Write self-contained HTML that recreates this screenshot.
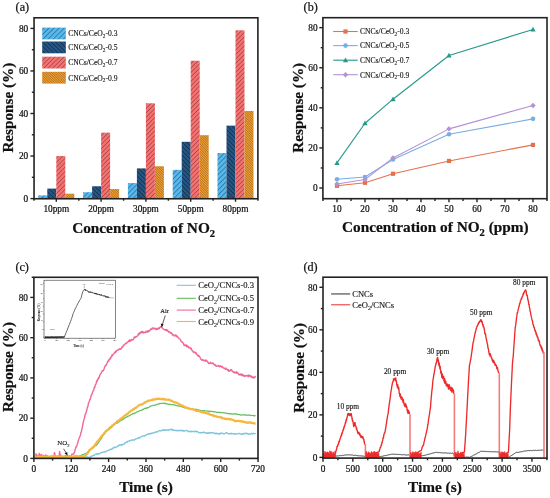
<!DOCTYPE html><html><head><meta charset="utf-8"><style>html,body{margin:0;padding:0;background:#fff;}svg{display:block;will-change:transform;}text{font-family:"Liberation Serif",serif;fill:#111;stroke:#111;stroke-width:0.22px;}</style></head><body>
<svg width="550" height="498" viewBox="0 0 550 498">
<defs>
<pattern id="hLB" patternUnits="userSpaceOnUse" width="3.6" height="3.6" patternTransform="rotate(45)"><rect width="3.6" height="3.6" fill="#56b9ee"/><line x1="0" y1="0" x2="0" y2="3.6" stroke="#1a3d5e" stroke-width="0.95"/></pattern>
<pattern id="hDB" patternUnits="userSpaceOnUse" width="3.1" height="3.1" patternTransform="rotate(-45)"><rect width="3.1" height="3.1" fill="#255583"/><line x1="0" y1="0" x2="0" y2="3.1" stroke="#08172a" stroke-width="0.95"/></pattern>
<pattern id="hR" patternUnits="userSpaceOnUse" width="3.15" height="3.15" patternTransform="rotate(45)"><rect width="3.15" height="3.15" fill="#f57272"/><line x1="0" y1="0" x2="0" y2="3.15" stroke="#7a2828" stroke-width="0.95"/></pattern>
<pattern id="hO" patternUnits="userSpaceOnUse" width="1.7" height="1.7" patternTransform="rotate(-45)"><rect width="1.7" height="1.7" fill="#f8a434"/><line x1="0" y1="0" x2="0" y2="1.7" stroke="#5e3c0e" stroke-width="0.8"/></pattern>
</defs>
<rect width="550" height="498" fill="#fff"/>
<rect x="38.3" y="195.41" width="9.0" height="3.34" fill="url(#hLB)"/>
<rect x="47.3" y="188.6" width="9.0" height="10.15" fill="url(#hDB)"/>
<rect x="56.3" y="156.05" width="9.0" height="42.7" fill="url(#hR)"/>
<rect x="65.3" y="193.71" width="9.0" height="5.04" fill="url(#hO)"/>
<rect x="83.1" y="192.22" width="9.0" height="6.53" fill="url(#hLB)"/>
<rect x="92.1" y="186.26" width="9.0" height="12.49" fill="url(#hDB)"/>
<rect x="101.1" y="132.65" width="9.0" height="66.1" fill="url(#hR)"/>
<rect x="110.1" y="189.03" width="9.0" height="9.72" fill="url(#hO)"/>
<rect x="127.9" y="183.07" width="9.0" height="15.68" fill="url(#hLB)"/>
<rect x="136.9" y="168.39" width="9.0" height="30.36" fill="url(#hDB)"/>
<rect x="145.9" y="103.29" width="9.0" height="95.46" fill="url(#hR)"/>
<rect x="154.9" y="166.26" width="9.0" height="32.49" fill="url(#hO)"/>
<rect x="172.7" y="169.88" width="9.0" height="28.87" fill="url(#hLB)"/>
<rect x="181.7" y="141.8" width="9.0" height="56.95" fill="url(#hDB)"/>
<rect x="190.7" y="60.74" width="9.0" height="138.01" fill="url(#hR)"/>
<rect x="199.7" y="135.2" width="9.0" height="63.55" fill="url(#hO)"/>
<rect x="217.5" y="153.07" width="9.0" height="45.68" fill="url(#hLB)"/>
<rect x="226.5" y="125.63" width="9.0" height="73.12" fill="url(#hDB)"/>
<rect x="235.5" y="30.31" width="9.0" height="168.44" fill="url(#hR)"/>
<rect x="244.5" y="110.95" width="9.0" height="87.8" fill="url(#hO)"/>
<rect x="34.05" y="17.8" width="223.85" height="180.95" fill="none" stroke="#222" stroke-width="1.6"/>
<line x1="30.45" y1="198.6" x2="34.05" y2="198.6" stroke="#222" stroke-width="1.4"/>
<text x="28.2" y="201.8" font-size="9.3" text-anchor="end" >0</text>
<line x1="31.85" y1="177.32" x2="34.05" y2="177.32" stroke="#222" stroke-width="1.4"/>
<line x1="30.45" y1="156.05" x2="34.05" y2="156.05" stroke="#222" stroke-width="1.4"/>
<text x="28.2" y="159.25" font-size="9.3" text-anchor="end" >20</text>
<line x1="31.85" y1="134.78" x2="34.05" y2="134.78" stroke="#222" stroke-width="1.4"/>
<line x1="30.45" y1="113.5" x2="34.05" y2="113.5" stroke="#222" stroke-width="1.4"/>
<text x="28.2" y="116.7" font-size="9.3" text-anchor="end" >40</text>
<line x1="31.85" y1="92.22" x2="34.05" y2="92.22" stroke="#222" stroke-width="1.4"/>
<line x1="30.45" y1="70.95" x2="34.05" y2="70.95" stroke="#222" stroke-width="1.4"/>
<text x="28.2" y="74.15" font-size="9.3" text-anchor="end" >60</text>
<line x1="31.85" y1="49.68" x2="34.05" y2="49.68" stroke="#222" stroke-width="1.4"/>
<line x1="30.45" y1="28.4" x2="34.05" y2="28.4" stroke="#222" stroke-width="1.4"/>
<text x="28.2" y="31.6" font-size="9.3" text-anchor="end" >80</text>
<line x1="34.05" y1="198.75" x2="34.05" y2="200.75" stroke="#222" stroke-width="1.4"/>
<line x1="78.82" y1="198.75" x2="78.82" y2="200.75" stroke="#222" stroke-width="1.4"/>
<line x1="123.59" y1="198.75" x2="123.59" y2="200.75" stroke="#222" stroke-width="1.4"/>
<line x1="168.36" y1="198.75" x2="168.36" y2="200.75" stroke="#222" stroke-width="1.4"/>
<line x1="213.13" y1="198.75" x2="213.13" y2="200.75" stroke="#222" stroke-width="1.4"/>
<line x1="257.9" y1="198.75" x2="257.9" y2="200.75" stroke="#222" stroke-width="1.4"/>
<line x1="56.3" y1="198.75" x2="56.3" y2="201.75" stroke="#222" stroke-width="1.4"/>
<text x="56.3" y="212.4" font-size="9.3" text-anchor="middle" >10ppm</text>
<line x1="101.1" y1="198.75" x2="101.1" y2="201.75" stroke="#222" stroke-width="1.4"/>
<text x="101.1" y="212.4" font-size="9.3" text-anchor="middle" >20ppm</text>
<line x1="145.9" y1="198.75" x2="145.9" y2="201.75" stroke="#222" stroke-width="1.4"/>
<text x="145.9" y="212.4" font-size="9.3" text-anchor="middle" >30ppm</text>
<line x1="190.7" y1="198.75" x2="190.7" y2="201.75" stroke="#222" stroke-width="1.4"/>
<text x="190.7" y="212.4" font-size="9.3" text-anchor="middle" >50ppm</text>
<line x1="235.5" y1="198.75" x2="235.5" y2="201.75" stroke="#222" stroke-width="1.4"/>
<text x="235.5" y="212.4" font-size="9.3" text-anchor="middle" >80ppm</text>
<rect x="42.2" y="27.6" width="23.6" height="11.8" fill="url(#hLB)"/>
<text x="68.2" y="36.3" font-size="7.6" text-anchor="start"  style="stroke-width:0.12px">CNCs/CeO<tspan font-size="5.3" dy="1.85">2</tspan><tspan dy="-1.85">-0.3</tspan></text>
<rect x="42.2" y="41.5" width="23.6" height="11.8" fill="url(#hDB)"/>
<text x="68.2" y="50.2" font-size="7.6" text-anchor="start"  style="stroke-width:0.12px">CNCs/CeO<tspan font-size="5.3" dy="1.85">2</tspan><tspan dy="-1.85">-0.5</tspan></text>
<rect x="42.2" y="56.7" width="23.6" height="11.8" fill="url(#hR)"/>
<text x="68.2" y="65.4" font-size="7.6" text-anchor="start"  style="stroke-width:0.12px">CNCs/CeO<tspan font-size="5.3" dy="1.85">2</tspan><tspan dy="-1.85">-0.7</tspan></text>
<rect x="42.2" y="71.8" width="23.6" height="11.8" fill="url(#hO)"/>
<text x="68.2" y="80.5" font-size="7.6" text-anchor="start"  style="stroke-width:0.12px">CNCs/CeO<tspan font-size="5.3" dy="1.85">2</tspan><tspan dy="-1.85">-0.9</tspan></text>
<text x="143.6" y="233.2" font-size="15.3" text-anchor="middle" font-weight="bold" >Concentration of NO<tspan font-size="10.5" dy="3.67">2</tspan><tspan dy="-3.67"></tspan></text>
<text transform="translate(12.8,107.7) rotate(-90)" x="0" y="0" font-size="15.2" font-weight="bold" text-anchor="middle">Response (%)</text>
<text x="15.6" y="10.8" font-size="12.2" text-anchor="start" >(a)</text>
<polyline points="337,185.8 365,182.79 393,173.77 449,160.94 533,144.9" fill="none" stroke="#e5704c" stroke-width="1.1" stroke-linejoin="round" />
<rect x="334.9" y="183.7" width="4.2" height="4.2" fill="#e5704c"/>
<rect x="362.9" y="180.69" width="4.2" height="4.2" fill="#e5704c"/>
<rect x="390.9" y="171.67" width="4.2" height="4.2" fill="#e5704c"/>
<rect x="446.9" y="158.84" width="4.2" height="4.2" fill="#e5704c"/>
<rect x="530.9" y="142.8" width="4.2" height="4.2" fill="#e5704c"/>
<polyline points="337,179.18 365,176.98 393,159.54 449,134.28 533,118.84" fill="none" stroke="#78aee8" stroke-width="1.1" stroke-linejoin="round" />
<circle cx="337" cy="179.18" r="2.3" fill="#78aee8"/>
<circle cx="365" cy="176.98" r="2.3" fill="#78aee8"/>
<circle cx="393" cy="159.54" r="2.3" fill="#78aee8"/>
<circle cx="449" cy="134.28" r="2.3" fill="#78aee8"/>
<circle cx="533" cy="118.84" r="2.3" fill="#78aee8"/>
<polyline points="337,162.94 365,123.25 393,99.2 449,55.5 533,29.44" fill="none" stroke="#24998a" stroke-width="1.1" stroke-linejoin="round" />
<polygon points="337,160.17 334.39,165.02 339.61,165.02" fill="#24998a"/>
<polygon points="365,120.48 362.39,125.33 367.61,125.33" fill="#24998a"/>
<polygon points="393,96.43 390.39,101.28 395.61,101.28" fill="#24998a"/>
<polygon points="449,52.73 446.39,57.58 451.61,57.58" fill="#24998a"/>
<polygon points="533,26.67 530.39,31.52 535.61,31.52" fill="#24998a"/>
<polyline points="337,183.99 365,179.58 393,157.93 449,128.87 533,105.41" fill="none" stroke="#b393d4" stroke-width="1.1" stroke-linejoin="round" />
<polygon points="337,181.26 339.73,183.99 337,186.72 334.27,183.99" fill="#b393d4"/>
<polygon points="365,176.85 367.73,179.58 365,182.31 362.27,179.58" fill="#b393d4"/>
<polygon points="393,155.2 395.73,157.93 393,160.66 390.27,157.93" fill="#b393d4"/>
<polygon points="449,126.14 451.73,128.87 449,131.6 446.27,128.87" fill="#b393d4"/>
<polygon points="533,102.68 535.73,105.41 533,108.14 530.27,105.41" fill="#b393d4"/>
<rect x="322.9" y="17.7" width="224.1" height="181" fill="none" stroke="#222" stroke-width="1.6"/>
<line x1="319.3" y1="188" x2="322.9" y2="188" stroke="#222" stroke-width="1.4"/>
<text x="317.6" y="191.2" font-size="9.3" text-anchor="end" >0</text>
<line x1="320.7" y1="167.95" x2="322.9" y2="167.95" stroke="#222" stroke-width="1.4"/>
<line x1="319.3" y1="147.91" x2="322.9" y2="147.91" stroke="#222" stroke-width="1.4"/>
<text x="317.6" y="151.11" font-size="9.3" text-anchor="end" >20</text>
<line x1="320.7" y1="127.86" x2="322.9" y2="127.86" stroke="#222" stroke-width="1.4"/>
<line x1="319.3" y1="107.82" x2="322.9" y2="107.82" stroke="#222" stroke-width="1.4"/>
<text x="317.6" y="111.02" font-size="9.3" text-anchor="end" >40</text>
<line x1="320.7" y1="87.77" x2="322.9" y2="87.77" stroke="#222" stroke-width="1.4"/>
<line x1="319.3" y1="67.73" x2="322.9" y2="67.73" stroke="#222" stroke-width="1.4"/>
<text x="317.6" y="70.93" font-size="9.3" text-anchor="end" >60</text>
<line x1="320.7" y1="47.69" x2="322.9" y2="47.69" stroke="#222" stroke-width="1.4"/>
<line x1="319.3" y1="27.64" x2="322.9" y2="27.64" stroke="#222" stroke-width="1.4"/>
<text x="317.6" y="30.84" font-size="9.3" text-anchor="end" >80</text>
<line x1="323" y1="198.7" x2="323" y2="200.9" stroke="#222" stroke-width="1.4"/>
<line x1="337" y1="198.7" x2="337" y2="202.3" stroke="#222" stroke-width="1.4"/>
<text x="337" y="212.3" font-size="9.3" text-anchor="middle" >10</text>
<line x1="351" y1="198.7" x2="351" y2="200.9" stroke="#222" stroke-width="1.4"/>
<line x1="365" y1="198.7" x2="365" y2="202.3" stroke="#222" stroke-width="1.4"/>
<text x="365" y="212.3" font-size="9.3" text-anchor="middle" >20</text>
<line x1="379" y1="198.7" x2="379" y2="200.9" stroke="#222" stroke-width="1.4"/>
<line x1="393" y1="198.7" x2="393" y2="202.3" stroke="#222" stroke-width="1.4"/>
<text x="393" y="212.3" font-size="9.3" text-anchor="middle" >30</text>
<line x1="407" y1="198.7" x2="407" y2="200.9" stroke="#222" stroke-width="1.4"/>
<line x1="421" y1="198.7" x2="421" y2="202.3" stroke="#222" stroke-width="1.4"/>
<text x="421" y="212.3" font-size="9.3" text-anchor="middle" >40</text>
<line x1="435" y1="198.7" x2="435" y2="200.9" stroke="#222" stroke-width="1.4"/>
<line x1="449" y1="198.7" x2="449" y2="202.3" stroke="#222" stroke-width="1.4"/>
<text x="449" y="212.3" font-size="9.3" text-anchor="middle" >50</text>
<line x1="463" y1="198.7" x2="463" y2="200.9" stroke="#222" stroke-width="1.4"/>
<line x1="477" y1="198.7" x2="477" y2="202.3" stroke="#222" stroke-width="1.4"/>
<text x="477" y="212.3" font-size="9.3" text-anchor="middle" >60</text>
<line x1="491" y1="198.7" x2="491" y2="200.9" stroke="#222" stroke-width="1.4"/>
<line x1="505" y1="198.7" x2="505" y2="202.3" stroke="#222" stroke-width="1.4"/>
<text x="505" y="212.3" font-size="9.3" text-anchor="middle" >70</text>
<line x1="519" y1="198.7" x2="519" y2="200.9" stroke="#222" stroke-width="1.4"/>
<line x1="533" y1="198.7" x2="533" y2="202.3" stroke="#222" stroke-width="1.4"/>
<text x="533" y="212.3" font-size="9.3" text-anchor="middle" >80</text>
<line x1="547" y1="198.7" x2="547" y2="200.9" stroke="#222" stroke-width="1.4"/>
<line x1="333.2" y1="31.5" x2="357.7" y2="31.5" stroke="#e5704c" stroke-width="1.1"/>
<rect x="343.4" y="29.4" width="4.2" height="4.2" fill="#e5704c"/>
<text x="360" y="34.3" font-size="7.6" text-anchor="start"  style="stroke-width:0.12px">CNCs/CeO<tspan font-size="5.3" dy="1.85">2</tspan><tspan dy="-1.85">-0.3</tspan></text>
<line x1="333.2" y1="45.6" x2="357.7" y2="45.6" stroke="#78aee8" stroke-width="1.1"/>
<circle cx="345.5" cy="45.6" r="2.3" fill="#78aee8"/>
<text x="360" y="48.4" font-size="7.6" text-anchor="start"  style="stroke-width:0.12px">CNCs/CeO<tspan font-size="5.3" dy="1.85">2</tspan><tspan dy="-1.85">-0.5</tspan></text>
<line x1="333.2" y1="60.2" x2="357.7" y2="60.2" stroke="#24998a" stroke-width="1.1"/>
<polygon points="345.5,57.43 342.89,62.28 348.11,62.28" fill="#24998a"/>
<text x="360" y="63" font-size="7.6" text-anchor="start"  style="stroke-width:0.12px">CNCs/CeO<tspan font-size="5.3" dy="1.85">2</tspan><tspan dy="-1.85">-0.7</tspan></text>
<line x1="333.2" y1="74.7" x2="357.7" y2="74.7" stroke="#b393d4" stroke-width="1.1"/>
<polygon points="345.5,71.97 348.23,74.7 345.5,77.43 342.77,74.7" fill="#b393d4"/>
<text x="360" y="77.5" font-size="7.6" text-anchor="start"  style="stroke-width:0.12px">CNCs/CeO<tspan font-size="5.3" dy="1.85">2</tspan><tspan dy="-1.85">-0.9</tspan></text>
<text x="435.3" y="232.4" font-size="15.3" text-anchor="middle" font-weight="bold" >Concentration of NO<tspan font-size="10.5" dy="3.67">2</tspan><tspan dy="-3.67"> (ppm)</tspan></text>
<text transform="translate(303.3,107.8) rotate(-90)" x="0" y="0" font-size="15.2" font-weight="bold" text-anchor="middle">Response (%)</text>
<text x="303.6" y="10.8" font-size="12.2" text-anchor="start" >(b)</text>
<polyline points="34,456.63 34.4,456.55 34.8,457.34 35.2,456.92 35.6,457.57 36,457.58 36.4,457.14 36.8,457.21 37.2,457.24 37.6,457.32 38,457.23 38.4,457.16 38.8,457.2 39.2,457.49 39.6,457.13 40,457.11 40.4,457.43 40.8,457.05 41.2,457.14 41.6,457.76 42,457.35 42.4,457.38 42.8,456.91 43.2,457.28 43.6,457.43 44,456.93 44.4,457.43 44.8,457.35 45.2,456.71 45.6,457.08 46,456.83 46.4,456.97 46.8,456.68 47.2,456.99 47.6,457.01 48,456.35 48.4,456.38 48.8,456.93 49.2,457.2 49.6,456.66 50,457.02 50.4,457.35 50.8,457.29 51.2,457.45 51.6,457.43 52,457.43 52.4,457.53 52.8,457.12 53.2,457.05 53.6,457.31 54,456.61 54.4,457.1 54.8,457.24 55.2,456.85 55.6,456.77 56,457.29 56.4,456.78 56.8,456.76 57.2,457.1 57.6,457.51 58,457.16 58.4,457.52 58.8,457.63 59.2,458.08 59.6,457.66 60,457.93 60.4,457.18 60.8,457.22 61.2,457.42 61.6,457.62 62,457.26 62.4,457.13 62.8,457.13 63.2,457.59 63.6,457.34 64,457.92 64.4,457.93 64.8,457.28 65.2,457.28 65.6,457.67 66,457.46 66.4,457.57 66.8,457.16 67.2,456.99 67.6,457.18 68,457.67 68.4,457.24 68.8,457.33 69.2,457.39 69.6,457.33 70,457.22 70.4,457.56 70.8,456.76 71.2,456.56 71.6,457.39 72,457.38 72.4,457.57 72.8,457.19 73.2,457.77 73.6,457.84 74,457.23 74.4,457.72 74.8,457.84 75.2,457.74 75.6,457.67 76,457.51 76.4,457.58 76.8,457.47 77.2,457.28 77.6,457.67 78,457.31 78.4,457.71 78.8,456.98 79.2,457.76 79.6,457.59 80,457.85 80.4,457.88 80.8,457.93 81.2,457.68 81.6,457.18 82,457.83 82.4,457.3 82.8,457.4 83.2,457.72 83.6,457.58 84,457.48 84.4,457.91 84.8,457.52 85.2,457.13 85.6,456.91 86,457.34 86.4,456.94 86.8,457.24 87.2,456.95 87.6,456.97 88,457.45 88.4,457.85 88.8,457.21 89.2,457.63 89.6,457.59 90,457.31 90.4,457.14 90.8,456.23 91.2,456.62 91.6,456.68 92,455.78 92.4,455.78 92.8,455.57 93.2,455.59 93.6,455.3 94,455.19 94.4,455.3 94.8,454.42 95.2,454.26 95.6,454.11 96,453.92 96.4,453.7 96.8,454.4 97.2,454.27 97.6,453.63 98,454.07 98.4,453.93 98.8,453.89 99.2,453.79 99.6,453.87 100,453.59 100.4,453.14 100.8,452.76 101.2,452.69 101.6,452.35 102,452.61 102.4,452.66 102.8,452.28 103.2,451.93 103.6,451.91 104,451.94 104.4,451.99 104.8,452.01 105.2,451.51 105.6,451.76 106,451.47 106.4,451.14 106.8,450.91 107.2,450.83 107.6,450.82 108,450.35 108.4,450.4 108.8,450 109.2,449.64 109.6,449.76 110,449.77 110.4,449.1 110.8,449.29 111.2,449.16 111.6,449.4 112,449.24 112.4,448.46 112.8,448.64 113.2,448.25 113.6,447.51 114,447.5 114.4,447.05 114.8,447.57 115.2,447.36 115.6,447.49 116,447.32 116.4,447.08 116.8,446.96 117.2,446.59 117.6,445.93 118,446.11 118.4,445.35 118.8,445.26 119.2,445.67 119.6,444.91 120,444.89 120.4,444.85 120.8,445.5 121.2,444.77 121.6,444.49 122,445.05 122.4,444.23 122.8,444.7 123.2,444.37 123.6,444.34 124,444.28 124.4,443.73 124.8,443.63 125.2,442.59 125.6,442.89 126,442.35 126.4,442.3 126.8,441.58 127.2,442 127.6,442.01 128,441.07 128.4,441.15 128.8,441.21 129.2,441.28 129.6,440.6 130,440.4 130.4,440.34 130.8,440.54 131.2,440.53 131.6,440.06 132,439.96 132.4,439.99 132.8,439.98 133.2,440.07 133.6,439.75 134,440.03 134.4,440.27 134.8,439.53 135.2,439.56 135.6,438.76 136,438.99 136.4,438.85 136.8,438.63 137.2,438.37 137.6,438.24 138,438.28 138.4,438.41 138.8,437.61 139.2,437.41 139.6,437.82 140,437.75 140.4,437.16 140.8,436.88 141.2,436.93 141.6,436.3 142,436.24 142.4,436.07 142.8,436.32 143.2,435.99 143.6,435.8 144,436.09 144.4,436.17 144.8,435.42 145.2,435.61 145.6,435.18 146,435.41 146.4,435.01 146.8,434.58 147.2,434.39 147.6,434.06 148,434.32 148.4,434.08 148.8,433.75 149.2,433.77 149.6,433.63 150,433.94 150.4,433.29 150.8,433.96 151.2,433.39 151.6,433.36 152,433.1 152.4,433.29 152.8,433.13 153.2,432.75 153.6,432.54 154,432.62 154.4,432.64 154.8,432.16 155.2,432.41 155.6,432.57 156,432.07 156.4,431.76 156.8,431.64 157.2,431.92 157.6,431.71 158,431.78 158.4,431.52 158.8,430.82 159.2,430.65 159.6,430.62 160,430.48 160.4,430.89 160.8,430.96 161.2,430.91 161.6,430.21 162,430.63 162.4,430 162.8,430.02 163.2,430.28 163.6,429.69 164,429.69 164.4,430.37 164.8,429.9 165.2,429.99 165.6,430.22 166,430.34 166.4,429.75 166.8,430.03 167.2,430.08 167.6,430.05 168,429.72 168.4,429.99 168.8,430.29 169.2,429.77 169.6,429.84 170,429.35 170.4,429.37 170.8,429.6 171.2,429.03 171.6,429.73 172,429.84 172.4,429.27 172.8,430.23 173.2,429.91 173.6,430.41 174,430.47 174.4,430.09 174.8,430.47 175.2,430.5 175.6,430.69 176,430.25 176.4,430.73 176.8,430.94 177.2,430.7 177.6,430.59 178,430.22 178.4,430.57 178.8,430.47 179.2,430.83 179.6,430.79 180,430.66 180.4,430.27 180.8,430.65 181.2,430.62 181.6,430.25 182,430.94 182.4,430.79 182.8,430.39 183.2,431.19 183.6,430.54 184,430.76 184.4,431.12 184.8,430.96 185.2,430.84 185.6,430.84 186,430.62 186.4,430.48 186.8,430.41 187.2,430.45 187.6,431.21 188,431.44 188.4,431.42 188.8,431.71 189.2,431.41 189.6,431.33 190,431.43 190.4,431.84 190.8,431.08 191.2,431.49 191.6,431.29 192,431.78 192.4,431.39 192.8,431.34 193.2,431.37 193.6,431.49 194,431.72 194.4,431.36 194.8,431.81 195.2,431.14 195.6,431.27 196,431.11 196.4,431.14 196.8,431.81 197.2,431.91 197.6,431.64 198,431.88 198.4,432.29 198.8,432.72 199.2,432.84 199.6,432.84 200,432.77 200.4,432.44 200.8,432.73 201.2,432.61 201.6,432.95 202,432.95 202.4,432.48 202.8,432.32 203.2,432.62 203.6,431.81 204,432.48 204.4,432.63 204.8,432.82 205.2,432.51 205.6,432.86 206,433.05 206.4,433.19 206.8,433.51 207.2,433.22 207.6,432.81 208,433.24 208.4,432.84 208.8,432.93 209.2,433.06 209.6,432.4 210,433.06 210.4,432.93 210.8,432.74 211.2,432.76 211.6,432.72 212,432.51 212.4,432.87 212.8,432.49 213.2,432.96 213.6,433.14 214,433 214.4,433.16 214.8,433.62 215.2,433.7 215.6,433.16 216,433.87 216.4,433.78 216.8,433.28 217.2,433.57 217.6,433.49 218,433.38 218.4,433.82 218.8,434.19 219.2,433.64 219.6,434.04 220,433.71 220.4,433.01 220.8,433.48 221.2,433.13 221.6,433.41 222,433.27 222.4,433.41 222.8,433.2 223.2,433.76 223.6,433.97 224,433.95 224.4,433.54 224.8,433.73 225.2,433.36 225.6,432.89 226,432.73 226.4,432.71 226.8,432.85 227.2,432.92 227.6,433.38 228,433.73 228.4,433.73 228.8,433.72 229.2,433.93 229.6,433.58 230,433.65 230.4,433.82 230.8,433.42 231.2,433.18 231.6,433.82 232,433.72 232.4,433.51 232.8,433.66 233.2,433.94 233.6,434.1 234,433.81 234.4,433.63 234.8,433.84 235.2,434.39 235.6,433.84 236,434.16 236.4,433.94 236.8,433.94 237.2,433.84 237.6,433.96 238,433.63 238.4,433.42 238.8,433.44 239.2,433.5 239.6,433.86 240,433.59 240.4,433.68 240.8,434.19 241.2,434.23 241.6,434.52 242,433.88 242.4,434.07 242.8,433.91 243.2,433.42 243.6,434.15 244,433.45 244.4,433.33 244.8,433.64 245.2,433.32 245.6,433.69 246,433.4 246.4,433.19 246.8,433.15 247.2,433.85 247.6,433.57 248,434.17 248.4,434 248.8,434.49 249.2,433.94 249.6,433.83 250,433.74 250.4,434.1 250.8,433.82 251.2,433.49 251.6,433.25 252,433.81 252.4,434.11 252.8,433.82 253.2,433.34 253.6,433.4 254,433.48 254.4,433.57 254.8,433.5 255.2,433.57 255.6,434.18" fill="none" stroke="#7ec4dd" stroke-width="1.3" stroke-linejoin="round" />
<polyline points="34,456.85 34.4,456.83 34.8,456.71 35.2,457.08 35.6,456.56 36,456.42 36.4,456.92 36.8,456.42 37.2,456.83 37.6,456.38 38,456.68 38.4,456.62 38.8,457.08 39.2,457.03 39.6,457.1 40,457.19 40.4,457.24 40.8,456.88 41.2,456.98 41.6,456.82 42,456.56 42.4,456.94 42.8,456.77 43.2,456.9 43.6,456.54 44,456.77 44.4,456.76 44.8,456.96 45.2,456.6 45.6,456.78 46,456.87 46.4,456.62 46.8,456.91 47.2,457.03 47.6,456.85 48,457 48.4,456.98 48.8,456.75 49.2,456.83 49.6,457.21 50,456.81 50.4,456.87 50.8,456.66 51.2,456.74 51.6,456.71 52,457.16 52.4,457.01 52.8,457.03 53.2,457 53.6,456.66 54,456.74 54.4,456.41 54.8,456.29 55.2,456.6 55.6,456.59 56,456.64 56.4,456.38 56.8,456.59 57.2,456.39 57.6,456.76 58,456.72 58.4,456.35 58.8,456.75 59.2,456.33 59.6,456.31 60,456.72 60.4,456.49 60.8,456.64 61.2,456.71 61.6,456.36 62,456.81 62.4,456.57 62.8,456.7 63.2,456.68 63.6,456.94 64,456.95 64.4,456.65 64.8,456.47 65.2,456.49 65.6,456.45 66,456.14 66.4,456.11 66.8,456.42 67.2,456.38 67.6,456.55 68,456.57 68.4,456.53 68.8,456.25 69.2,456.14 69.6,456.24 70,456.33 70.4,456.38 70.8,456.43 71.2,456.38 71.6,456.74 72,456.46 72.4,456.61 72.8,456.89 73.2,456.84 73.6,456.49 74,456.39 74.4,456.64 74.8,456.06 75.2,456.05 75.6,456.24 76,456.22 76.4,456 76.8,455.95 77.2,456.06 77.6,456.43 78,456.28 78.4,456.61 78.8,456.51 79.2,456.54 79.6,455.81 80,455.74 80.4,455.47 80.8,455.55 81.2,455.33 81.6,454.99 82,455.13 82.4,454.67 82.8,454.62 83.2,454.42 83.6,454.6 84,454.21 84.4,453.94 84.8,453.63 85.2,453.67 85.6,453.6 86,453.45 86.4,453.3 86.8,452.95 87.2,452.32 87.6,451.95 88,452.01 88.4,451.69 88.8,451.15 89.2,450.94 89.6,450.36 90,449.79 90.4,449.33 90.8,448.89 91.2,448.95 91.6,448.81 92,448.56 92.4,448.04 92.8,447.92 93.2,447.82 93.6,447.48 94,447.05 94.4,446.62 94.8,446.37 95.2,445.84 95.6,445.53 96,445.52 96.4,445.39 96.8,444.81 97.2,444.34 97.6,443.73 98,443.21 98.4,442.85 98.8,442.07 99.2,441.8 99.6,440.74 100,440.25 100.4,439.78 100.8,439.11 101.2,438.76 101.6,438.13 102,437.57 102.4,436.77 102.8,435.82 103.2,435.56 103.6,434.98 104,434.4 104.4,433.73 104.8,433.45 105.2,433.03 105.6,431.98 106,431.75 106.4,431.14 106.8,430.93 107.2,430.84 107.6,430.56 108,430.05 108.4,429.48 108.8,429.63 109.2,428.93 109.6,428.8 110,428.82 110.4,428.16 110.8,427.79 111.2,427.84 111.6,427.49 112,426.76 112.4,426.44 112.8,426.01 113.2,425.54 113.6,425.23 114,425.29 114.4,424.38 114.8,424.1 115.2,423.73 115.6,423.36 116,423.43 116.4,423.38 116.8,423.26 117.2,422.95 117.6,422.86 118,422.14 118.4,422.06 118.8,422.2 119.2,421.39 119.6,421.22 120,421.07 120.4,420.67 120.8,420.58 121.2,420.04 121.6,419.91 122,420.09 122.4,419.35 122.8,419.54 123.2,418.85 123.6,419.09 124,418.66 124.4,418.41 124.8,417.87 125.2,417.57 125.6,417.75 126,417.16 126.4,416.92 126.8,417.07 127.2,416.87 127.6,416.17 128,416.54 128.4,416.12 128.8,415.87 129.2,415.53 129.6,415.51 130,415.66 130.4,415 130.8,414.67 131.2,414.44 131.6,414.19 132,414.1 132.4,414.26 132.8,413.57 133.2,413.47 133.6,413.75 134,413.62 134.4,413.45 134.8,412.84 135.2,412.74 135.6,412.94 136,412.48 136.4,412.43 136.8,412 137.2,411.62 137.6,411.6 138,411.64 138.4,411.47 138.8,411.16 139.2,410.94 139.6,410.82 140,410.61 140.4,410.52 140.8,410.55 141.2,410.01 141.6,410.09 142,410.14 142.4,409.91 142.8,409.33 143.2,409.6 143.6,409.33 144,408.72 144.4,408.59 144.8,408.38 145.2,408.13 145.6,408.55 146,408.1 146.4,408.29 146.8,407.74 147.2,407.58 147.6,407.97 148,407.78 148.4,407.73 148.8,407.34 149.2,407.01 149.6,406.91 150,406.27 150.4,406.32 150.8,406.07 151.2,405.74 151.6,405.88 152,405.6 152.4,405.6 152.8,405.42 153.2,405.28 153.6,405.18 154,405.22 154.4,405.33 154.8,405.21 155.2,405.07 155.6,404.97 156,404.56 156.4,404.88 156.8,404.35 157.2,404.14 157.6,404.24 158,404.25 158.4,403.88 158.8,403.93 159.2,403.59 159.6,403.87 160,403.44 160.4,403.39 160.8,403.41 161.2,403.58 161.6,403.6 162,403.29 162.4,403.21 162.8,403.31 163.2,403.01 163.6,403.26 164,403.55 164.4,403.56 164.8,403.18 165.2,403.72 165.6,403.49 166,403.89 166.4,403.59 166.8,403.58 167.2,403.89 167.6,404.21 168,404.06 168.4,404.42 168.8,404.4 169.2,404.23 169.6,404.23 170,404.38 170.4,404.36 170.8,404.39 171.2,404.6 171.6,404.79 172,404.67 172.4,404.48 172.8,404.61 173.2,404.8 173.6,405.04 174,404.85 174.4,404.9 174.8,405.13 175.2,405.17 175.6,405.09 176,405.46 176.4,405.76 176.8,405.59 177.2,405.78 177.6,405.9 178,405.97 178.4,406.08 178.8,405.83 179.2,406.04 179.6,405.78 180,406.31 180.4,406.09 180.8,406.26 181.2,406.63 181.6,406.42 182,406.53 182.4,407.09 182.8,407.13 183.2,407 183.6,407.12 184,407.46 184.4,407.37 184.8,407.98 185.2,407.7 185.6,407.86 186,408.04 186.4,408.22 186.8,408.29 187.2,408.53 187.6,408.66 188,408.61 188.4,408.43 188.8,408.97 189.2,408.81 189.6,408.47 190,408.73 190.4,408.98 190.8,409.18 191.2,408.69 191.6,408.71 192,409.06 192.4,409.08 192.8,409.43 193.2,409.44 193.6,409.18 194,409.27 194.4,409.39 194.8,409.59 195.2,409.2 195.6,409.35 196,409.22 196.4,409.61 196.8,409.33 197.2,409.96 197.6,409.81 198,409.94 198.4,409.73 198.8,409.89 199.2,410.1 199.6,410.42 200,410.33 200.4,410.3 200.8,410.85 201.2,410.77 201.6,410.79 202,410.67 202.4,410.75 202.8,411.1 203.2,410.6 203.6,410.78 204,410.78 204.4,410.59 204.8,410.84 205.2,410.97 205.6,411.01 206,411.03 206.4,410.82 206.8,410.84 207.2,411.16 207.6,411.17 208,411.16 208.4,411.6 208.8,411.22 209.2,411.58 209.6,411.64 210,411.15 210.4,411.63 210.8,411.34 211.2,411.28 211.6,411.31 212,411.27 212.4,411.59 212.8,411.56 213.2,411.89 213.6,411.92 214,411.51 214.4,411.77 214.8,411.86 215.2,411.84 215.6,412 216,412.13 216.4,412.48 216.8,412.34 217.2,412.24 217.6,412.33 218,412.46 218.4,412.53 218.8,412.33 219.2,412.59 219.6,412.31 220,412.62 220.4,412.62 220.8,412.38 221.2,412.75 221.6,412.55 222,412.65 222.4,412.71 222.8,412.76 223.2,412.69 223.6,412.5 224,412.99 224.4,413.08 224.8,412.91 225.2,413.02 225.6,412.88 226,413.3 226.4,413.23 226.8,413.02 227.2,413.47 227.6,413.68 228,413.39 228.4,413.87 228.8,413.62 229.2,413.48 229.6,413.84 230,413.65 230.4,413.92 230.8,413.86 231.2,413.61 231.6,413.9 232,414.13 232.4,413.93 232.8,413.97 233.2,414.14 233.6,413.86 234,413.86 234.4,413.9 234.8,414.05 235.2,413.72 235.6,413.7 236,414.16 236.4,414.1 236.8,414.02 237.2,414.44 237.6,414.49 238,414.33 238.4,414.65 238.8,414.66 239.2,414.72 239.6,414.58 240,414.54 240.4,415.05 240.8,415.16 241.2,414.97 241.6,415.05 242,415.07 242.4,414.83 242.8,415.05 243.2,414.92 243.6,414.8 244,414.66 244.4,414.97 244.8,414.88 245.2,415.17 245.6,414.9 246,415.09 246.4,415.02 246.8,415.18 247.2,415.3 247.6,415.03 248,415 248.4,415.26 248.8,415.09 249.2,415.28 249.6,415.08 250,415.05 250.4,415.34 250.8,415.62 251.2,415.64 251.6,415.49 252,415.48 252.4,415.33 252.8,415.49 253.2,415.54 253.6,415.92 254,415.43 254.4,415.92 254.8,415.63 255.2,415.61 255.6,415.51" fill="none" stroke="#62bd5c" stroke-width="1.15" stroke-linejoin="round" />
<polyline points="34,457.29 34.4,456.68 34.8,456.77 35.2,456.81 35.6,456.39 36,453.8 36.4,455.54 36.8,455.14 37.2,455.25 37.6,455.93 38,455.89 38.4,456.65 38.8,456.26 39.2,453.39 39.6,456.79 40,456.86 40.4,456.95 40.8,454.65 41.2,456.41 41.6,454.44 42,455.76 42.4,456.81 42.8,456.19 43.2,455.4 43.6,456.62 44,456.03 44.4,456.1 44.8,455.81 45.2,455.32 45.6,455.01 46,455.41 46.4,455.73 46.8,456.8 47.2,455.62 47.6,456.56 48,456.91 48.4,456.86 48.8,458.13 49.2,457.33 49.6,456.64 50,457.29 50.4,456.45 50.8,457.49 51.2,457.69 51.6,457.73 52,456.35 52.4,457.33 52.8,456.71 53.2,456.95 53.6,456.65 54,456.65 54.4,452.58 54.8,453.32 55.2,456.47 55.6,457.95 56,456.54 56.4,458.05 56.8,456.76 57.2,456.35 57.6,457.04 58,456.3 58.4,456.35 58.8,455.74 59.2,455.92 59.6,451.34 60,456.39 60.4,454.29 60.8,455.22 61.2,456.07 61.6,456.22 62,457.2 62.4,457.62 62.8,456.83 63.2,457.32 63.6,457.09 64,456.83 64.4,456.88 64.8,456.92 65.2,455.76 65.6,455.94 66,456.43 66.4,455.57 66.8,455.92 67.2,455.65 67.6,455.91 68,456.49 68.4,456.74 68.8,457.14 69.2,456.39 69.6,456.08 70,456.51 70.4,456.32 70.8,456.44 71.2,456.28 71.6,455.49 72,453.91 72.4,454.17 72.8,454.32 73.2,454.18 73.6,453.96 74,452.96 74.4,452.62 74.8,450.86 75.2,449.31 75.6,448.26 76,446.81 76.4,446.99 76.8,445.98 77.2,444.19 77.6,443.56 78,441.6 78.4,440.32 78.8,439.25 79.2,437.91 79.6,437.29 80,436.15 80.4,435.14 80.8,432.8 81.2,432.38 81.6,430.33 82,428.47 82.4,426.83 82.8,424.8 83.2,422.53 83.6,421 84,419.65 84.4,418.1 84.8,416.81 85.2,414.07 85.6,414.01 86,412.65 86.4,411.26 86.8,410.38 87.2,407.69 87.6,407.28 88,406.04 88.4,403.37 88.8,402.73 89.2,401.97 89.6,399.83 90,399.72 90.4,398.84 90.8,397.09 91.2,395.56 91.6,394.49 92,394.42 92.4,392.76 92.8,391.56 93.2,390.75 93.6,390.52 94,388.46 94.4,387.09 94.8,387.5 95.2,385.37 95.6,384.36 96,384.22 96.4,382.06 96.8,380.76 97.2,381.2 97.6,379.45 98,378.7 98.4,379.13 98.8,377.24 99.2,377.51 99.6,375.74 100,374.87 100.4,373.9 100.8,373.59 101.2,372.84 101.6,371.86 102,371.39 102.4,370.54 102.8,370.97 103.2,370.68 103.6,369.9 104,369.44 104.4,367.55 104.8,367.04 105.2,366.09 105.6,365.1 106,365.51 106.4,364.62 106.8,363.96 107.2,362.79 107.6,361.52 108,361.48 108.4,360.32 108.8,361.08 109.2,359.46 109.6,358.9 110,359.36 110.4,357.58 110.8,358.15 111.2,356.58 111.6,356.54 112,355 112.4,355.85 112.8,354.61 113.2,354.08 113.6,354.17 114,353.7 114.4,352.8 114.8,352.2 115.2,352.48 115.6,351.15 116,352.1 116.4,350.91 116.8,350.36 117.2,350.37 117.6,349.8 118,349.91 118.4,350.05 118.8,349.51 119.2,349.05 119.6,348.73 120,348.88 120.4,349.22 120.8,348.52 121.2,348.82 121.6,348.03 122,347.01 122.4,346.56 122.8,347.07 123.2,345.88 123.6,345.16 124,344.9 124.4,345.08 124.8,344.09 125.2,343.91 125.6,343.77 126,342.99 126.4,343.52 126.8,342.99 127.2,342.52 127.6,342.04 128,341.7 128.4,341.73 128.8,340.57 129.2,341.6 129.6,340.07 130,341.21 130.4,340.08 130.8,341.02 131.2,340.04 131.6,339.53 132,339.95 132.4,340.09 132.8,339.75 133.2,339.45 133.6,339.28 134,337.48 134.4,337.69 134.8,336.91 135.2,337.59 135.6,336.75 136,336.87 136.4,336.7 136.8,336.76 137.2,335.91 137.6,335.84 138,334.91 138.4,333.77 138.8,334.75 139.2,333.22 139.6,332.9 140,333.72 140.4,332.47 140.8,332.79 141.2,331.55 141.6,331.68 142,332.44 142.4,331.42 142.8,332.29 143.2,333.07 143.6,331.95 144,332.66 144.4,332.61 144.8,332.34 145.2,332.52 145.6,332.37 146,331.19 146.4,331.35 146.8,331.74 147.2,332.32 147.6,331.03 148,331.54 148.4,330.71 148.8,331.74 149.2,330.91 149.6,330.69 150,330.46 150.4,329.08 150.8,329.54 151.2,329.28 151.6,329.23 152,328.24 152.4,328.08 152.8,327.89 153.2,328.98 153.6,328.16 154,328.02 154.4,328.27 154.8,328.73 155.2,328.41 155.6,328.73 156,329.62 156.4,329.68 156.8,328.79 157.2,328.26 157.6,329.4 158,328.86 158.4,328.43 158.8,327.96 159.2,328.71 159.6,327.68 160,327.11 160.4,326.68 160.8,326.84 161.2,327.04 161.6,326.64 162,327.94 162.4,327.89 162.8,328.04 163.2,328.81 163.6,329.14 164,329.52 164.4,329.58 164.8,329.75 165.2,329.75 165.6,330.34 166,329.42 166.4,330.44 166.8,329.86 167.2,331.04 167.6,330.16 168,331.19 168.4,331.47 168.8,332.17 169.2,331.56 169.6,331.86 170,331.89 170.4,332.91 170.8,333.27 171.2,332.66 171.6,333.23 172,333.53 172.4,335 172.8,334.44 173.2,334.87 173.6,334.68 174,335.54 174.4,336.01 174.8,335.91 175.2,334.91 175.6,335.67 176,335.86 176.4,335.35 176.8,336.81 177.2,336.33 177.6,336.55 178,337.35 178.4,337.63 178.8,337.9 179.2,338.92 179.6,338.91 180,339.25 180.4,339.47 180.8,340.89 181.2,341.15 181.6,341.89 182,342.06 182.4,342.02 182.8,342.6 183.2,343.33 183.6,343.72 184,345.38 184.4,345.26 184.8,344.87 185.2,345.68 185.6,345.6 186,344.81 186.4,346.18 186.8,345.61 187.2,347.08 187.6,345.93 188,346.37 188.4,346.54 188.8,347.76 189.2,347.97 189.6,347.88 190,347.5 190.4,348.26 190.8,348.99 191.2,348.25 191.6,349.91 192,350.18 192.4,350.86 192.8,351.1 193.2,351.57 193.6,352.64 194,351.86 194.4,352.14 194.8,352.08 195.2,352.39 195.6,353.59 196,352.71 196.4,354.08 196.8,353.92 197.2,355.11 197.6,355.35 198,355.67 198.4,356.27 198.8,355.32 199.2,356.02 199.6,356.64 200,357.29 200.4,358.26 200.8,359.16 201.2,359.42 201.6,360.08 202,359.96 202.4,359.6 202.8,359.95 203.2,360.39 203.6,360.59 204,360.06 204.4,360.23 204.8,360.75 205.2,360.2 205.6,361.31 206,359.99 206.4,361.15 206.8,361.09 207.2,360.94 207.6,361.91 208,362.16 208.4,363.3 208.8,363.46 209.2,363.16 209.6,363.62 210,363.53 210.4,362.21 210.8,363.14 211.2,363.1 211.6,363.46 212,363.3 212.4,362.98 212.8,362.97 213.2,363.98 213.6,363.52 214,364.58 214.4,364.5 214.8,365.2 215.2,364.8 215.6,365.08 216,366.35 216.4,366.2 216.8,365.87 217.2,366.16 217.6,365.88 218,366.11 218.4,365.84 218.8,365.5 219.2,366.74 219.6,366.69 220,366.56 220.4,365.85 220.8,365.79 221.2,366.74 221.6,367.01 222,366.96 222.4,366.57 222.8,367.75 223.2,367.8 223.6,367.86 224,368.39 224.4,368.28 224.8,368.66 225.2,368.87 225.6,369.28 226,367.94 226.4,368.77 226.8,369.55 227.2,369.41 227.6,369.72 228,370.63 228.4,369.73 228.8,371.26 229.2,371.13 229.6,371.01 230,370.36 230.4,370.57 230.8,369.54 231.2,370.08 231.6,369.75 232,371.1 232.4,371.32 232.8,371.28 233.2,372.22 233.6,372.02 234,372.48 234.4,372 234.8,373.12 235.2,372.93 235.6,372.87 236,371.77 236.4,373.02 236.8,371.91 237.2,373.06 237.6,373.27 238,372.94 238.4,373.85 238.8,374.84 239.2,374.57 239.6,374.13 240,374.93 240.4,374.17 240.8,375.02 241.2,374.27 241.6,373.88 242,375.49 242.4,374.29 242.8,374.84 243.2,375.92 243.6,375.09 244,375.87 244.4,376.4 244.8,375.93 245.2,375.45 245.6,376 246,376.05 246.4,375.66 246.8,375.8 247.2,375.35 247.6,375.51 248,376.46 248.4,376.45 248.8,374.94 249.2,375.33 249.6,375.5 250,376.57 250.4,375.8 250.8,375.92 251.2,377.01 251.6,376.14 252,377.55 252.4,376.89 252.8,377.81 253.2,377.88 253.6,377.06 254,378.07 254.4,377.46 254.8,377.03 255.2,376.57 255.6,377.44" fill="none" stroke="#f2679a" stroke-width="1.4" stroke-linejoin="round" />
<polyline points="34,457.28 34.4,457.16 34.8,457.01 35.2,456.96 35.6,456.68 36,456.85 36.4,456.81 36.8,456.74 37.2,456.68 37.6,456.88 38,456.53 38.4,456.94 38.8,457.18 39.2,456.57 39.6,456.75 40,457.27 40.4,456.62 40.8,457.1 41.2,456.87 41.6,456.44 42,456.76 42.4,456.27 42.8,456.83 43.2,456.45 43.6,456.9 44,456.9 44.4,456.41 44.8,456.63 45.2,456.48 45.6,456.93 46,456.47 46.4,456.45 46.8,456.47 47.2,456.98 47.6,456.54 48,456.58 48.4,456.66 48.8,456.72 49.2,456.62 49.6,456.96 50,456.47 50.4,456.49 50.8,456.68 51.2,456.17 51.6,456.07 52,456.52 52.4,456.16 52.8,456.6 53.2,456.59 53.6,456.33 54,456.35 54.4,456.23 54.8,456.79 55.2,456.49 55.6,456.42 56,456.31 56.4,456.36 56.8,456.82 57.2,456.31 57.6,456.61 58,456.66 58.4,456.58 58.8,456.55 59.2,456.46 59.6,456.29 60,456.72 60.4,456.75 60.8,456.51 61.2,456.29 61.6,456.76 62,456.29 62.4,456.3 62.8,456.65 63.2,456.82 63.6,456.65 64,456.33 64.4,456.95 64.8,456.4 65.2,456.56 65.6,457.05 66,456.95 66.4,456.96 66.8,456.5 67.2,457.04 67.6,456.71 68,456.43 68.4,456.95 68.8,457.03 69.2,456.39 69.6,456.67 70,456.97 70.4,456.57 70.8,456.55 71.2,456.89 71.6,456.65 72,457.04 72.4,456.94 72.8,456.95 73.2,456.83 73.6,456.43 74,456.69 74.4,456.5 74.8,456.32 75.2,456.29 75.6,456.04 76,455.94 76.4,456.45 76.8,456.12 77.2,456.02 77.6,456.72 78,456.48 78.4,456.67 78.8,456.47 79.2,456.34 79.6,456.46 80,456.8 80.4,456.39 80.8,456.82 81.2,456.39 81.6,456.79 82,456.29 82.4,456.48 82.8,456.29 83.2,456.35 83.6,456.66 84,456.59 84.4,456.41 84.8,455.87 85.2,455.59 85.6,455.19 86,455.14 86.4,454.14 86.8,453.93 87.2,453.82 87.6,453.24 88,452.7 88.4,452.47 88.8,450.94 89.2,450.2 89.6,449.79 90,449.75 90.4,449.71 90.8,448.95 91.2,448.6 91.6,448.66 92,447.89 92.4,447.51 92.8,447.6 93.2,446.81 93.6,446.7 94,445.96 94.4,445.76 94.8,445.37 95.2,444.51 95.6,443.78 96,443.43 96.4,442.9 96.8,441.9 97.2,441.52 97.6,441.12 98,440.75 98.4,440.13 98.8,439.94 99.2,439.2 99.6,439.17 100,438.29 100.4,437.69 100.8,437.08 101.2,436.6 101.6,436.14 102,436.09 102.4,435.25 102.8,434.76 103.2,434.62 103.6,434.11 104,433.45 104.4,432.64 104.8,432.3 105.2,432.02 105.6,431.46 106,431.14 106.4,430.67 106.8,430.33 107.2,430.31 107.6,429.85 108,429.37 108.4,429.02 108.8,428.75 109.2,428.43 109.6,427.6 110,427.82 110.4,427.21 110.8,426.79 111.2,426.89 111.6,426.4 112,425.76 112.4,425.19 112.8,425.17 113.2,424.87 113.6,424.54 114,424.06 114.4,424.09 114.8,423.54 115.2,423.53 115.6,423 116,422.47 116.4,422.47 116.8,421.83 117.2,421.2 117.6,420.99 118,420.52 118.4,420.48 118.8,420.54 119.2,420.3 119.6,419.83 120,419.22 120.4,419.01 120.8,418.7 121.2,418.52 121.6,418.37 122,417.58 122.4,417.53 122.8,417.11 123.2,416.91 123.6,416.68 124,416.06 124.4,415.92 124.8,415.43 125.2,415.32 125.6,415.21 126,414.57 126.4,414.65 126.8,414.35 127.2,413.81 127.6,413.53 128,413.6 128.4,412.93 128.8,412.49 129.2,412.22 129.6,412.05 130,411.65 130.4,411.3 130.8,410.97 131.2,410.6 131.6,410.51 132,410.3 132.4,409.68 132.8,409.77 133.2,409.29 133.6,409.5 134,409.21 134.4,408.39 134.8,408.53 135.2,408.03 135.6,407.6 136,407.86 136.4,407.58 136.8,407.14 137.2,406.65 137.6,406.53 138,405.9 138.4,405.68 138.8,405.4 139.2,405.34 139.6,405.19 140,404.7 140.4,404.57 140.8,404.75 141.2,404.7 141.6,404.41 142,404.59 142.4,404.36 142.8,404.01 143.2,403.65 143.6,403.51 144,402.91 144.4,403.1 144.8,402.4 145.2,402.74 145.6,402.33 146,401.84 146.4,401.53 146.8,401.56 147.2,401.22 147.6,401.15 148,400.52 148.4,400.94 148.8,400.56 149.2,400.52 149.6,400.68 150,400.54 150.4,400.37 150.8,400.19 151.2,400.23 151.6,399.82 152,399.85 152.4,400.11 152.8,399.48 153.2,399.32 153.6,399.73 154,399.31 154.4,399.34 154.8,399.32 155.2,399.35 155.6,399.01 156,399.27 156.4,398.67 156.8,399.19 157.2,398.74 157.6,398.92 158,398.69 158.4,399.02 158.8,398.78 159.2,398.97 159.6,398.84 160,399.24 160.4,399.21 160.8,398.81 161.2,399.19 161.6,399.32 162,398.82 162.4,398.78 162.8,399.31 163.2,399.35 163.6,398.79 164,399.27 164.4,399.42 164.8,399.07 165.2,399.56 165.6,399.35 166,399.8 166.4,399.69 166.8,399.71 167.2,399.47 167.6,399.83 168,399.87 168.4,399.6 168.8,399.49 169.2,399.62 169.6,399.85 170,400.47 170.4,400.44 170.8,400.7 171.2,400.75 171.6,400.48 172,400.82 172.4,401.38 172.8,401.5 173.2,401.8 173.6,401.89 174,402.01 174.4,402.25 174.8,402.53 175.2,402.36 175.6,402.25 176,402.62 176.4,402.59 176.8,402.96 177.2,403.36 177.6,403.31 178,403.46 178.4,403.52 178.8,403.89 179.2,404.22 179.6,404.51 180,404.99 180.4,404.6 180.8,404.95 181.2,405.02 181.6,405.79 182,405.73 182.4,405.88 182.8,406.12 183.2,405.69 183.6,406.49 184,406.27 184.4,406.69 184.8,406.78 185.2,407.28 185.6,407.18 186,407.35 186.4,407.51 186.8,407.99 187.2,407.92 187.6,407.82 188,408.06 188.4,408.31 188.8,408.26 189.2,408.51 189.6,408.79 190,408.77 190.4,408.99 190.8,408.73 191.2,409.2 191.6,409.32 192,409.11 192.4,408.83 192.8,408.98 193.2,409.57 193.6,409.8 194,409.88 194.4,409.93 194.8,410.15 195.2,410.04 195.6,410.55 196,410.97 196.4,410.51 196.8,410.84 197.2,411.02 197.6,410.88 198,410.68 198.4,410.63 198.8,411.05 199.2,411.3 199.6,411.42 200,411.27 200.4,411.72 200.8,411.97 201.2,411.86 201.6,412.29 202,412.17 202.4,412.15 202.8,412.09 203.2,412.66 203.6,412.73 204,412.29 204.4,412.37 204.8,412.65 205.2,412.68 205.6,413.16 206,412.88 206.4,413.26 206.8,413.33 207.2,413.29 207.6,413.75 208,413.57 208.4,413.76 208.8,414.03 209.2,414.03 209.6,414.07 210,414.79 210.4,414.83 210.8,414.83 211.2,414.92 211.6,415.13 212,415.03 212.4,415 212.8,415.46 213.2,415.83 213.6,415.38 214,416.1 214.4,415.77 214.8,416.31 215.2,416.26 215.6,416.03 216,416.1 216.4,416.68 216.8,416.84 217.2,416.82 217.6,416.74 218,416.78 218.4,417.01 218.8,417.09 219.2,417.16 219.6,416.86 220,417.32 220.4,417.52 220.8,417.41 221.2,417.19 221.6,417.5 222,418.01 222.4,418.02 222.8,418.5 223.2,418.4 223.6,418.53 224,418.23 224.4,418.56 224.8,418.76 225.2,418.98 225.6,419.06 226,418.7 226.4,418.94 226.8,419.31 227.2,418.69 227.6,418.67 228,418.73 228.4,419.11 228.8,418.86 229.2,419.2 229.6,419.36 230,419.41 230.4,418.92 230.8,419.43 231.2,419.57 231.6,419.57 232,419.75 232.4,419.83 232.8,419.86 233.2,420.26 233.6,420.27 234,420.19 234.4,420.52 234.8,421.11 235.2,420.78 235.6,420.92 236,421.21 236.4,421.07 236.8,421.13 237.2,420.91 237.6,420.96 238,420.72 238.4,420.87 238.8,420.89 239.2,421.19 239.6,421.21 240,420.93 240.4,421.36 240.8,421.05 241.2,421.33 241.6,421.16 242,421.53 242.4,421.36 242.8,421.97 243.2,421.62 243.6,422.01 244,421.79 244.4,421.77 244.8,422.23 245.2,421.95 245.6,422.26 246,422.47 246.4,422.83 246.8,422.71 247.2,422.3 247.6,422.6 248,422.93 248.4,422.82 248.8,422.44 249.2,422.25 249.6,422.34 250,422.71 250.4,422.36 250.8,422.93 251.2,422.56 251.6,422.94 252,423.02 252.4,422.78 252.8,423.03 253.2,423.16 253.6,422.98 254,423.25 254.4,423.41 254.8,423.74 255.2,423.36 255.6,423.36" fill="none" stroke="#f7b63c" stroke-width="2.1" stroke-linejoin="round" />
<rect x="33.9" y="277.3" width="224.1" height="181.1" fill="none" stroke="#222" stroke-width="1.6"/>
<line x1="30.3" y1="458.4" x2="33.9" y2="458.4" stroke="#222" stroke-width="1.4"/>
<text x="28" y="461.6" font-size="9.3" text-anchor="end" >0</text>
<line x1="31.7" y1="438.28" x2="33.9" y2="438.28" stroke="#222" stroke-width="1.4"/>
<line x1="30.3" y1="418.16" x2="33.9" y2="418.16" stroke="#222" stroke-width="1.4"/>
<text x="28" y="421.36" font-size="9.3" text-anchor="end" >20</text>
<line x1="31.7" y1="398.03" x2="33.9" y2="398.03" stroke="#222" stroke-width="1.4"/>
<line x1="30.3" y1="377.91" x2="33.9" y2="377.91" stroke="#222" stroke-width="1.4"/>
<text x="28" y="381.11" font-size="9.3" text-anchor="end" >40</text>
<line x1="31.7" y1="357.79" x2="33.9" y2="357.79" stroke="#222" stroke-width="1.4"/>
<line x1="30.3" y1="337.67" x2="33.9" y2="337.67" stroke="#222" stroke-width="1.4"/>
<text x="28" y="340.87" font-size="9.3" text-anchor="end" >60</text>
<line x1="31.7" y1="317.55" x2="33.9" y2="317.55" stroke="#222" stroke-width="1.4"/>
<line x1="30.3" y1="297.42" x2="33.9" y2="297.42" stroke="#222" stroke-width="1.4"/>
<text x="28" y="300.62" font-size="9.3" text-anchor="end" >80</text>
<line x1="31.7" y1="277.3" x2="33.9" y2="277.3" stroke="#222" stroke-width="1.4"/>
<line x1="33.9" y1="458.4" x2="33.9" y2="462" stroke="#222" stroke-width="1.4"/>
<text x="33.9" y="471.8" font-size="9.3" text-anchor="middle" >0</text>
<line x1="52.58" y1="458.4" x2="52.58" y2="460.6" stroke="#222" stroke-width="1.4"/>
<line x1="71.26" y1="458.4" x2="71.26" y2="462" stroke="#222" stroke-width="1.4"/>
<text x="71.26" y="471.8" font-size="9.3" text-anchor="middle" >120</text>
<line x1="89.93" y1="458.4" x2="89.93" y2="460.6" stroke="#222" stroke-width="1.4"/>
<line x1="108.61" y1="458.4" x2="108.61" y2="462" stroke="#222" stroke-width="1.4"/>
<text x="108.61" y="471.8" font-size="9.3" text-anchor="middle" >240</text>
<line x1="127.29" y1="458.4" x2="127.29" y2="460.6" stroke="#222" stroke-width="1.4"/>
<line x1="145.97" y1="458.4" x2="145.97" y2="462" stroke="#222" stroke-width="1.4"/>
<text x="145.97" y="471.8" font-size="9.3" text-anchor="middle" >360</text>
<line x1="164.65" y1="458.4" x2="164.65" y2="460.6" stroke="#222" stroke-width="1.4"/>
<line x1="183.32" y1="458.4" x2="183.32" y2="462" stroke="#222" stroke-width="1.4"/>
<text x="183.32" y="471.8" font-size="9.3" text-anchor="middle" >480</text>
<line x1="202" y1="458.4" x2="202" y2="460.6" stroke="#222" stroke-width="1.4"/>
<line x1="220.68" y1="458.4" x2="220.68" y2="462" stroke="#222" stroke-width="1.4"/>
<text x="220.68" y="471.8" font-size="9.3" text-anchor="middle" >600</text>
<line x1="239.36" y1="458.4" x2="239.36" y2="460.6" stroke="#222" stroke-width="1.4"/>
<line x1="258.04" y1="458.4" x2="258.04" y2="462" stroke="#222" stroke-width="1.4"/>
<text x="258.04" y="471.8" font-size="9.3" text-anchor="middle" >720</text>
<line x1="176.7" y1="285.3" x2="195.8" y2="285.3" stroke="#7ec4dd" stroke-width="1.1"/>
<text x="198.3" y="288.4" font-size="8.6" text-anchor="start"  style="stroke-width:0.12px">CeO<tspan font-size="6" dy="2.1">2</tspan><tspan dy="-2.1">/CNCs-0.3</tspan></text>
<line x1="176.7" y1="298.3" x2="195.8" y2="298.3" stroke="#62bd5c" stroke-width="1.1"/>
<text x="198.3" y="301.4" font-size="8.6" text-anchor="start"  style="stroke-width:0.12px">CeO<tspan font-size="6" dy="2.1">2</tspan><tspan dy="-2.1">/CNCs-0.5</tspan></text>
<line x1="176.7" y1="310.1" x2="195.8" y2="310.1" stroke="#f2679a" stroke-width="1.1"/>
<text x="198.3" y="313.2" font-size="8.6" text-anchor="start"  style="stroke-width:0.12px">CeO<tspan font-size="6" dy="2.1">2</tspan><tspan dy="-2.1">/CNCs-0.7</tspan></text>
<line x1="176.7" y1="321.5" x2="195.8" y2="321.5" stroke="#f5b43c" stroke-width="1.1"/>
<text x="198.3" y="324.6" font-size="8.6" text-anchor="start"  style="stroke-width:0.12px">CeO<tspan font-size="6" dy="2.1">2</tspan><tspan dy="-2.1">/CNCs-0.9</tspan></text>
<text x="164.6" y="313" font-size="6.6" text-anchor="middle"  style="stroke-width:0.12px">Air</text>
<line x1="165.3" y1="315.5" x2="162.2" y2="325" stroke="#111" stroke-width="0.7"/>
<polygon points="161.6,327.6 160.8,323.6 163.6,324.4" fill="#111"/>
<text x="57.3" y="444.5" font-size="6.8" text-anchor="start"  style="stroke-width:0.12px">NO<tspan font-size="4.6" dy="2.1">2</tspan></text>
<line x1="63.6" y1="448.8" x2="66.4" y2="453.2" stroke="#111" stroke-width="0.7"/>
<polygon points="67.6,455.6 64.6,453.6 67.2,452.0" fill="#111"/>
<rect x="44.0" y="280.2" width="71.6" height="58" fill="#fff" stroke="#333" stroke-width="0.6"/>
<polyline points="44.8,337.01 45.2,337.04 45.6,336.91 46,337.16 46.4,337.14 46.8,337.37 47.2,337.17 47.6,337.24 48,337.15 48.4,337.24 48.8,337.11 49.2,337 49.6,337.43 50,337.42 50.4,337.32 50.8,337.23 51.2,336.99 51.6,336.93 52,336.96 52.4,336.83 52.8,337.24 53.2,337.01 53.6,337.27 54,336.99 54.4,337.33 54.8,337.26 55.2,336.74 55.6,336.86 56,337.27 56.4,337 56.8,337.3 57.2,336.95 57.6,336.75 58,337.08 58.4,337.16 58.8,336.85 59.2,336.73 59.6,336.87 60,337.25 60.4,337.12 60.8,336.73 61.2,336.8 61.6,336.7 62,336.67 62.4,337.11 62.8,336.73 63.2,336.95 63.6,336.88 64,336.72 64.4,337.04 64.8,335.68 65.2,334.99 65.6,333.67 66,332.85 66.4,331.73 66.8,330.75 67.2,330.16 67.6,329.04 68,327.72 68.4,327.05 68.8,325.63 69.2,324.74 69.6,324.01 70,322.89 70.4,321.56 70.8,321.09 71.2,319.53 71.6,318.35 72,317.46 72.4,316 72.8,314.78 73.2,313.44 73.6,312.5 74,311.84 74.4,310.68 74.8,309.93 75.2,308.84 75.6,307.97 76,307.48 76.4,306.39 76.8,305.64 77.2,305.02 77.6,303.81 78,303.06 78.4,302.8 78.8,302.04 79.2,300.99 79.6,300.25 80,299.89 80.4,299.39 80.8,298.33 81.2,297.67 81.6,296.03 82,294.26 82.4,293.02 82.8,291.86 83.2,290.84 83.6,290.42 84,289.61 84.4,289.7 84.8,289.25 85.2,289.84 85.6,289.94 86,290 86.4,290.18 86.8,290.75 87.2,290.6 87.6,290.94 88,291.34 88.4,291.71 88.8,291.77 89.2,291.77 89.6,292.35 90,292.06 90.4,292.03 90.8,292.26 91.2,292.45 91.6,292.3 92,292.45 92.4,292.64 92.8,292.84 93.2,292.66 93.6,292.88 94,293.29 94.4,293.47 94.8,293.39 95.2,293.53 95.6,293.58 96,293.43 96.4,293.49 96.8,293.6 97.2,294.25 97.6,294.24 98,294.52 98.4,294.07 98.8,294.55 99.2,294.57 99.6,294.83 100,294.69 100.4,295.21 100.8,294.77 101.2,295.16 101.6,295.39 102,295.6 102.4,295.61 102.8,295.72 103.2,295.9 103.6,296.1 104,295.89 104.4,296.22 104.8,296.47 105.2,296.58 105.6,296.44 106,296.79 106.4,296.96 106.8,296.91 107.2,297.05 107.6,297 108,297.22 108.4,297.33 108.8,297.11 109.2,297.54 109.6,297.85" fill="none" stroke="#222" stroke-width="0.7" stroke-linejoin="round" />
<polyline points="44.8,337.3 64.4,337.1" fill="none" stroke="#222" stroke-width="1.4" stroke-linejoin="round" />
<circle cx="106.49" cy="297.04" r="0.45" fill="#222"/>
<circle cx="94.21" cy="293.4" r="0.45" fill="#222"/>
<circle cx="99.02" cy="294.46" r="0.45" fill="#222"/>
<circle cx="105.46" cy="295.94" r="0.45" fill="#222"/>
<circle cx="103.26" cy="295.18" r="0.45" fill="#222"/>
<circle cx="99.53" cy="294.65" r="0.45" fill="#222"/>
<circle cx="90.26" cy="292.53" r="0.45" fill="#222"/>
<circle cx="96.93" cy="294.06" r="0.45" fill="#222"/>
<circle cx="107.51" cy="296.75" r="0.45" fill="#222"/>
<circle cx="84.78" cy="289.17" r="0.45" fill="#222"/>
<circle cx="101.45" cy="294.85" r="0.45" fill="#222"/>
<circle cx="88.74" cy="292.16" r="0.45" fill="#222"/>
<circle cx="101" cy="295.01" r="0.45" fill="#222"/>
<circle cx="106.79" cy="296.66" r="0.45" fill="#222"/>
<circle cx="101.15" cy="294.76" r="0.45" fill="#222"/>
<circle cx="95.27" cy="293.8" r="0.45" fill="#222"/>
<circle cx="107.36" cy="297.47" r="0.45" fill="#222"/>
<circle cx="94.11" cy="293.19" r="0.45" fill="#222"/>
<circle cx="92.41" cy="292.29" r="0.45" fill="#222"/>
<circle cx="96.91" cy="294.32" r="0.45" fill="#222"/>
<circle cx="105.72" cy="296.78" r="0.45" fill="#222"/>
<circle cx="108.25" cy="296.96" r="0.45" fill="#222"/>
<circle cx="88.73" cy="291.6" r="0.45" fill="#222"/>
<circle cx="91.38" cy="292.17" r="0.45" fill="#222"/>
<circle cx="94.85" cy="293.46" r="0.45" fill="#222"/>
<circle cx="96.85" cy="293.68" r="0.45" fill="#222"/>
<circle cx="105.48" cy="297.03" r="0.45" fill="#222"/>
<circle cx="95.81" cy="293.08" r="0.45" fill="#222"/>
<circle cx="85.29" cy="290.14" r="0.45" fill="#222"/>
<circle cx="85.54" cy="290.1" r="0.45" fill="#222"/>
<circle cx="98.76" cy="294.23" r="0.45" fill="#222"/>
<circle cx="104.29" cy="295.49" r="0.45" fill="#222"/>
<circle cx="87.9" cy="291.19" r="0.45" fill="#222"/>
<circle cx="85.12" cy="289.99" r="0.45" fill="#222"/>
<circle cx="90.44" cy="291.9" r="0.45" fill="#222"/>
<circle cx="85.67" cy="290.09" r="0.45" fill="#222"/>
<circle cx="95.66" cy="293.71" r="0.45" fill="#222"/>
<circle cx="100.88" cy="295.42" r="0.45" fill="#222"/>
<circle cx="108.46" cy="297.5" r="0.45" fill="#222"/>
<circle cx="89.48" cy="292.01" r="0.45" fill="#222"/>
<polyline points="109.8,297.6 114.2,297.9" fill="none" stroke="#888" stroke-width="0.5" stroke-linejoin="round" />
<line x1="84.2" y1="285.6" x2="84.4" y2="288.2" stroke="#444" stroke-width="0.4"/>
<text x="42.8" y="284.9" font-size="2.4" text-anchor="end" fill="#666" style="stroke:none">59</text>
<text x="42.8" y="293.8" font-size="2.4" text-anchor="end" fill="#666" style="stroke:none">49</text>
<text x="42.8" y="302.8" font-size="2.4" text-anchor="end" fill="#666" style="stroke:none">39</text>
<text x="42.8" y="312" font-size="2.4" text-anchor="end" fill="#666" style="stroke:none">29</text>
<text x="42.8" y="321.1" font-size="2.4" text-anchor="end" fill="#666" style="stroke:none">19</text>
<text x="42.8" y="330.1" font-size="2.4" text-anchor="end" fill="#666" style="stroke:none">9</text>
<line x1="45" y1="338.2" x2="45" y2="339.2" stroke="#333" stroke-width="0.4"/>
<text x="45" y="341.4" font-size="2.4" text-anchor="middle" fill="#555" style="stroke:none">0</text>
<line x1="56.6" y1="338.2" x2="56.6" y2="339.2" stroke="#333" stroke-width="0.4"/>
<text x="56.6" y="341.4" font-size="2.4" text-anchor="middle" fill="#555" style="stroke:none">120</text>
<line x1="68.2" y1="338.2" x2="68.2" y2="339.2" stroke="#333" stroke-width="0.4"/>
<text x="68.2" y="341.4" font-size="2.4" text-anchor="middle" fill="#555" style="stroke:none">240</text>
<line x1="79.8" y1="338.2" x2="79.8" y2="339.2" stroke="#333" stroke-width="0.4"/>
<text x="79.8" y="341.4" font-size="2.4" text-anchor="middle" fill="#555" style="stroke:none">360</text>
<line x1="91.4" y1="338.2" x2="91.4" y2="339.2" stroke="#333" stroke-width="0.4"/>
<text x="91.4" y="341.4" font-size="2.4" text-anchor="middle" fill="#555" style="stroke:none">480</text>
<line x1="103" y1="338.2" x2="103" y2="339.2" stroke="#333" stroke-width="0.4"/>
<text x="103" y="341.4" font-size="2.4" text-anchor="middle" fill="#555" style="stroke:none">600</text>
<line x1="114.6" y1="338.2" x2="114.6" y2="339.2" stroke="#333" stroke-width="0.4"/>
<text x="114.6" y="341.4" font-size="2.4" text-anchor="middle" fill="#555" style="stroke:none">720</text>
<line x1="43.0" y1="337.2" x2="44.0" y2="337.2" stroke="#333" stroke-width="0.4"/>
<line x1="43.0" y1="329.49" x2="44.0" y2="329.49" stroke="#333" stroke-width="0.4"/>
<line x1="43.0" y1="321.77" x2="44.0" y2="321.77" stroke="#333" stroke-width="0.4"/>
<line x1="43.0" y1="314.06" x2="44.0" y2="314.06" stroke="#333" stroke-width="0.4"/>
<line x1="43.0" y1="306.34" x2="44.0" y2="306.34" stroke="#333" stroke-width="0.4"/>
<line x1="43.0" y1="298.63" x2="44.0" y2="298.63" stroke="#333" stroke-width="0.4"/>
<line x1="43.0" y1="290.91" x2="44.0" y2="290.91" stroke="#333" stroke-width="0.4"/>
<line x1="43.0" y1="283.2" x2="44.0" y2="283.2" stroke="#333" stroke-width="0.4"/>
<text x="78.5" y="346.5" font-size="3" text-anchor="middle" font-weight="bold" fill="#444" style="stroke:none">Time (s)</text>
<text transform="translate(39.5,312.3) rotate(-90)" font-size="3" text-anchor="middle" font-weight="bold" fill="#444" style="stroke:none">Response (%)</text>
<line x1="98.9" y1="283.5" x2="104.7" y2="283.5" stroke="#444" stroke-width="0.4"/>
<text x="106.2" y="284.5" font-size="2.8" fill="#444" style="stroke:none">CNCs</text>
<text x="83.6" y="284.6" font-size="2.4" text-anchor="middle" fill="#444" style="stroke:none">Air</text>
<text x="52.2" y="330" font-size="2.4" text-anchor="middle" fill="#444" style="stroke:none">NO2</text>
<text x="146" y="492.3" font-size="15.3" text-anchor="middle" font-weight="bold" >Time (s)</text>
<text transform="translate(12.7,367) rotate(-90)" x="0" y="0" font-size="15.2" font-weight="bold" text-anchor="middle">Response (%)</text>
<text x="15.4" y="270.8" font-size="12.2" text-anchor="start" >(c)</text>
<polyline points="323.8,457.01 324.3,457.08 324.8,456.77 325.3,457 325.8,456.98 326.3,456.97 326.8,456.61 327.3,456.93 327.8,456.56 328.3,456.62 328.8,456.7 329.3,456.78 329.8,456.52 330.3,456.72 330.8,456.53 331.3,456.4 331.8,456.37 332.3,456.28 332.8,456.21 333.3,456.2 333.8,456.38 334.3,456.47 334.8,456.1 335.3,456.02 335.8,456.34 336.3,456.1 336.8,455.99 337.3,455.86 337.8,455.94 338.3,455.98 338.8,455.77 339.3,455.7 339.8,455.49 340.3,455.78 340.8,455.36 341.3,455.49 341.8,455.57 342.3,455.23 342.8,455.41 343.3,455.44 343.8,455.25 344.3,455.25 344.8,454.92 345.3,454.99 345.8,454.82 346.3,455.04 346.8,454.76 347.3,454.76 347.8,454.92 348.3,454.87 348.8,454.96 349.3,454.8 349.8,454.86 350.3,455 350.8,454.95 351.3,454.92 351.8,455.01 352.3,454.95 352.8,455.09 353.3,455.38 353.8,455.41 354.3,455.32 354.8,455.32 355.3,455.3 355.8,455.24 356.3,455.36 356.8,455.61 357.3,455.69 357.8,455.54 358.3,455.75 358.8,455.79 359.3,455.81 359.8,455.84 360.3,455.92 360.8,455.81 361.3,455.99 361.8,455.87 362.3,455.99 362.8,456.15 363.3,456.17 363.8,456.05 364.3,456.36 364.8,456.38 365.3,456.55 365.8,456.52 366.3,456.94 366.8,457.02 367.3,457.26 367.8,457.15 368.3,457.28 368.8,457.19 369.3,457.23 369.8,457.03 370.3,457.13 370.8,457.15 371.3,457.16 371.8,456.95 372.3,457.13 372.8,457.12 373.3,457.03 373.8,457.12 374.3,457.1 374.8,456.9 375.3,456.89 375.8,456.72 376.3,456.97 376.8,456.99 377.3,456.79 377.8,456.85 378.3,456.85 378.8,456.83 379.3,456.59 379.8,456.81 380.3,456.63 380.8,456.57 381.3,456.37 381.8,456.36 382.3,456.32 382.8,456.16 383.3,456.1 383.8,455.72 384.3,455.68 384.8,455.69 385.3,455.68 385.8,455.41 386.3,455.49 386.8,455.37 387.3,455.04 387.8,455.11 388.3,454.92 388.8,454.75 389.3,454.68 389.8,454.66 390.3,454.51 390.8,454.41 391.3,454.25 391.8,454.32 392.3,454.19 392.8,454.26 393.3,454.27 393.8,454.16 394.3,454.45 394.8,454.11 395.3,454.3 395.8,454.27 396.3,454.35 396.8,454.25 397.3,454.57 397.8,454.41 398.3,454.3 398.8,454.55 399.3,454.37 399.8,454.57 400.3,454.51 400.8,454.63 401.3,454.81 401.8,454.78 402.3,454.64 402.8,454.82 403.3,454.78 403.8,454.7 404.3,454.63 404.8,454.83 405.3,454.85 405.8,455.03 406.3,455.06 406.8,454.94 407.3,454.86 407.8,455.1 408.3,454.77 408.8,454.83 409.3,455.49 409.8,456.27 410.3,456.85 410.8,457.31 411.3,457.35 411.8,457.07 412.3,457.02 412.8,456.87 413.3,456.83 413.8,457.03 414.3,456.73 414.8,456.89 415.3,456.8 415.8,456.61 416.3,456.41 416.8,456.63 417.3,456.36 417.8,456.26 418.3,456.15 418.8,456.35 419.3,456.09 419.8,455.93 420.3,455.94 420.8,455.73 421.3,455.86 421.8,455.72 422.3,455.59 422.8,455.72 423.3,455.67 423.8,455.27 424.3,455.41 424.8,455.18 425.3,455.31 425.8,455.12 426.3,454.78 426.8,454.65 427.3,454.48 427.8,454.68 428.3,454.27 428.8,454.27 429.3,454.09 429.8,454.02 430.3,453.88 430.8,453.8 431.3,453.42 431.8,453.55 432.3,453.23 432.8,453.2 433.3,452.99 433.8,452.84 434.3,452.8 434.8,452.65 435.3,452.47 435.8,452.5 436.3,452.46 436.8,452.27 437.3,452.39 437.8,452.49 438.3,452.71 438.8,452.72 439.3,452.61 439.8,452.43 440.3,452.76 440.8,452.65 441.3,452.74 441.8,452.82 442.3,452.82 442.8,452.79 443.3,452.99 443.8,452.8 444.3,452.83 444.8,453.05 445.3,452.81 445.8,452.88 446.3,453.12 446.8,452.84 447.3,453.18 447.8,453.15 448.3,453.08 448.8,453.04 449.3,453.27 449.8,453.35 450.3,453.07 450.8,453.23 451.3,453.29 451.8,453.3 452.3,453.26 452.8,453.22 453.3,453.42 453.8,454.37 454.3,456.18 454.8,457.1 455.3,457.36 455.8,457.37 456.3,457.34 456.8,457.1 457.3,457.39 457.8,457.49 458.3,457.49 458.8,457.37 459.3,457.1 459.8,457.42 460.3,457.16 460.8,457.33 461.3,457.45 461.8,457.35 462.3,457.11 462.8,457.17 463.3,457.42 463.8,457.11 464.3,457.29 464.8,457.21 465.3,457.1 465.8,457.28 466.3,457.05 466.8,457.07 467.3,457.17 467.8,457.05 468.3,457.04 468.8,457.24 469.3,457.3 469.8,457.35 470.3,456.89 470.8,456.74 471.3,456.43 471.8,456.27 472.3,455.96 472.8,455.87 473.3,455.38 473.8,454.98 474.3,454.97 474.8,454.49 475.3,454.41 475.8,454.09 476.3,453.99 476.8,453.57 477.3,453.33 477.8,452.92 478.3,452.77 478.8,452.38 479.3,452.31 479.8,451.95 480.3,451.53 480.8,451.3 481.3,451.26 481.8,451.43 482.3,451.22 482.8,451.46 483.3,451.45 483.8,451.24 484.3,451.5 484.8,451.28 485.3,451.32 485.8,451.52 486.3,451.4 486.8,451.68 487.3,451.54 487.8,451.49 488.3,451.7 488.8,451.42 489.3,451.71 489.8,451.46 490.3,451.52 490.8,451.86 491.3,451.77 491.8,451.61 492.3,451.59 492.8,451.95 493.3,451.84 493.8,451.93 494.3,451.67 494.8,451.89 495.3,451.8 495.8,451.77 496.3,451.83 496.8,451.96 497.3,451.87 497.8,451.91 498.3,451.83 498.8,452.12 499.3,453.65 499.8,456.36 500.3,457.27 500.8,457.43 501.3,457.29 501.8,457.32 502.3,457.3 502.8,457.36 503.3,457.22 503.8,457.1 504.3,457.07 504.8,457.13 505.3,457.06 505.8,457.39 506.3,457.22 506.8,457.33 507.3,457.02 507.8,457.2 508.3,457.36 508.8,457.25 509.3,456.97 509.8,456.66 510.3,456.19 510.8,455.88 511.3,455.55 511.8,455.31 512.3,454.99 512.8,454.85 513.3,454.24 513.8,453.95 514.3,453.63 514.8,453.25 515.3,452.97 515.8,452.63 516.3,452.54 516.8,452.28 517.3,452.55 517.8,452.25 518.3,452.39 518.8,452.21 519.3,452.12 519.8,451.96 520.3,452.06 520.8,451.65 521.3,451.78 521.8,451.55 522.3,451.62 522.8,451.56 523.3,451.25 523.8,451.18 524.3,451.03 524.8,451.03 525.3,450.88 525.8,450.93 526.3,451.07 526.8,450.75 527.3,450.64 527.8,450.62 528.3,450.51 528.8,450.67 529.3,450.65 529.8,450.42 530.3,450.44 530.8,450.6 531.3,450.69 531.8,450.56 532.3,450.46 532.8,450.67 533.3,450.27 533.8,450.28 534.3,450.55 534.8,450.39 535.3,450.24 535.8,450.42 536.3,450.59 536.8,450.39 537.3,450.31 537.8,450.19 538.3,450.17 538.8,450.49 539.3,450.31 539.8,450.48 540.3,450.11 540.8,450.18 541.3,450.09 541.8,450.21 542.3,450.07 542.8,450.13 543.3,450.18 543.8,450.13" fill="none" stroke="#3c3c3c" stroke-width="1.0" stroke-linejoin="round" />
<polygon points="323.4,457.6 323.4,453.05 323.85,453.93 324.3,454.28 324.75,450.99 325.2,452.03 325.65,452.4 326.1,451.96 326.55,454 327,451.81 327.45,452.21 327.9,451.82 328.35,452.48 328.8,452.73 329.25,453.73 329.7,450.7 330.15,451.32 330.6,452.29 331.05,450.9 331.5,453.97 331.95,451.88 332.4,453.41 332.85,453.46 333.3,451.81 333.75,453.23 334.2,454.05 334.65,453.83 335.1,450.82 335.2,457.6" fill="#ee2b2b" stroke="#ee2b2b" stroke-width="0.6" stroke-linejoin="round"/>
<polyline points="323.6,456.5 335,455.95 335.25,453.47 335.5,453.28 335.75,451.12 336,450.82 336.25,450.49 336.5,449.34 336.75,448.75 337,446.33 337.25,446.25 337.5,446.71 337.75,445.5 338,444.6 338.25,443.87 338.5,444.47 338.75,442.98 339,441.19 339.25,442.2 339.5,440.59 339.75,440.11 340,438.9 340.25,438.63 340.5,437.63 340.75,436.39 341,436.77 341.25,434.92 341.5,435.6 341.75,433.25 342,434.09 342.25,433.39 342.5,431.98 342.75,431.67 343,429.94 343.25,430.21 343.5,428.79 343.75,427.63 344,428.41 344.25,426.46 344.5,425.64 344.75,425.91 345,424.08 345.25,423.89 345.5,422.03 345.75,422.63 346,420.59 346.25,419.34 346.5,420.47 346.75,417.98 347,418.14 347.25,416.6 347.62,414.76 347.84,413.66 348.06,413.53 348.28,414.75 348.5,415.11 348.72,413.47 348.94,414.47 349.16,415.13 349.38,415.29 349.6,414.3 349.82,415.61 350.04,413.74 350.26,415.16 350.48,415.31 350.7,415.59 350.92,414.59 351.14,413.56 351.36,413.76 351.58,416.23 351.8,416.54 352.02,418.92 352.24,418.38 352.46,421.07 352.68,420.5 352.9,420.83 353.12,422.14 353.34,423.85 353.56,425.54 353.78,426.53 354,426.01 354.22,425.18 354.44,424.75 354.66,422.67 354.88,424.39 355.1,422.67 355.32,425.84 355.54,426.23 355.76,426 355.98,426.63 356.2,427.39 356.42,429.08 356.64,427.61 356.86,429.84 357.08,430.3 357.3,430.4 357.52,432.23 357.74,432.95 357.96,431.91 358.18,433.61 358.4,433.12 358.62,433.37 358.84,433.9 359.06,432.53 359.28,434.11 359.5,433.66 359.72,435.13 359.94,433.78 360.16,435.76 360.38,435.96 360.6,436.12 360.82,437.22 361.04,435.47 361.26,437.16 361.48,437.34 361.7,437.65 361.92,437.09 362.14,436.36 362.36,436.81 362.58,438.04 362.8,437.08 363.02,436.92 363.24,438.14 363.46,439.1 363.68,439.93 363.9,439.27 364.12,441.88 364.34,441.39 364.56,444.12 364.78,444.02" fill="none" stroke="#ee2b2b" stroke-width="1.35" stroke-linejoin="round" />
<line x1="365.4" y1="444.02" x2="365.4" y2="457.6" stroke="#f37c7c" stroke-width="1.6"/>
<polygon points="365.8,457.6 365.8,451.72 366.25,451.66 366.7,451.49 367.15,453.68 367.6,453.78 368.05,452.5 368.5,451.66 368.95,452.3 369.4,452.89 369.85,452.59 370.3,453.61 370.75,453.77 371.2,451.59 371.65,451.74 372.1,452 372.55,453.26 373,453.49 373.45,451.67 373.9,451.87 374.35,451.93 374.8,451.18 375.25,453.63 375.7,452.97 376.15,452.04 376.6,453.74 377.05,453.05 377.5,452.77 377.95,453.8 378.4,452.55 378.85,453.79 379.2,457.6" fill="#ee2b2b" stroke="#ee2b2b" stroke-width="0.6" stroke-linejoin="round"/>
<polyline points="366,456.5 379.2,451.62 379.45,449.94 379.7,449.79 379.95,448.68 380.2,447.37 380.45,447.58 380.7,446.7 380.95,446.67 381.2,444.95 381.45,445.12 381.7,443.81 381.95,442.32 382.2,442.69 382.45,441.02 382.7,440.47 382.95,438.65 383.2,437.55 383.45,438.19 383.7,435.62 383.95,434.82 384.2,433.86 384.45,432.74 384.7,433.06 384.95,432.38 385.2,430.76 385.45,429.2 385.7,428.55 385.95,426.32 386.2,424.11 386.45,423.57 386.7,421.43 386.95,419.73 387.2,418.28 387.45,416.85 387.7,414.95 387.95,414.18 388.2,413.1 388.45,410.94 388.7,407.97 388.95,407.24 389.2,404.09 389.45,402.96 389.7,401.71 389.95,399.41 390.2,397.88 390.45,395.65 390.7,393.16 390.95,391.39 391.2,390.41 391.45,389.28 391.7,386.94 391.95,385.58 392.2,384.79 392.45,382.53 392.7,382.17 392.95,381.42 393.2,381.47 393.45,379.2 393.7,378.84 393.95,379.26 394.2,378.42 394.62,379.28 394.84,380.21 395.06,380.29 395.28,379.76 395.5,379.24 395.72,377.87 395.94,381.11 396.16,380.24 396.38,381.38 396.6,382.92 396.82,385.09 397.04,384.38 397.26,386.67 397.48,387.73 397.7,384.58 397.92,385.85 398.14,388.16 398.36,387.9 398.58,389.35 398.8,387.73 399.02,390.5 399.24,393.5 399.46,393.4 399.68,394.64 399.9,396.42 400.12,393.88 400.34,394.01 400.56,397.71 400.78,397.23 401,396.33 401.22,399.13 401.44,397.32 401.66,397.05 401.88,398.03 402.1,397.34 402.32,399.11 402.54,400.9 402.76,399.96 402.98,402.28 403.2,399.38 403.42,400.62 403.64,401.24 403.86,403.66 404.08,402.93 404.3,405.49 404.52,405.58 404.74,405.7 404.96,406.63 405.18,406.31 405.4,406.73 405.62,403.62 405.84,404.4 406.06,406.85 406.28,405.57 406.5,406.06 406.72,407.74 406.94,407.49 407.16,411.02 407.38,411.11 407.6,409.92 407.82,413.2 408.04,411.36 408.26,410.21 408.48,411.5 408.7,413.25 408.92,412 409.14,411.8 409.36,413.62 409.58,414.18" fill="none" stroke="#ee2b2b" stroke-width="1.35" stroke-linejoin="round" />
<line x1="410" y1="414.18" x2="410" y2="457.6" stroke="#f37c7c" stroke-width="1.6"/>
<polygon points="410.4,457.6 410.4,452.87 410.85,452 411.3,454.26 411.75,453.97 412.2,452.67 412.65,451.77 413.1,452.58 413.55,451.83 414,454.22 414.45,453.7 414.9,452.03 415.35,453.33 415.8,451.27 416.25,452.39 416.7,454.14 417.15,452.93 417.6,453.32 418.05,451.88 418.5,452.91 418.95,454.21 419.4,453.45 419.85,453.52 420.3,452.86 420.75,454.02 421.2,452.08 421.2,457.6" fill="#ee2b2b" stroke="#ee2b2b" stroke-width="0.6" stroke-linejoin="round"/>
<polyline points="410.6,456.5 421.2,450.42 421.45,449.99 421.7,449.09 421.95,448.1 422.2,446.83 422.45,446.8 422.7,446.07 422.95,446.24 423.2,445.62 423.45,444.93 423.7,444.31 423.95,442.43 424.2,441.56 424.45,440.99 424.7,439.4 424.95,438.41 425.2,437.94 425.45,436.21 425.7,435.66 425.95,434.16 426.2,432.84 426.45,432.72 426.7,430.38 426.95,430.26 427.2,428.57 427.45,427.51 427.7,425.08 427.95,424.33 428.2,422.89 428.45,420.2 428.7,418.96 428.95,417.58 429.2,415.66 429.45,414.42 429.7,412.61 429.95,410.46 430.2,409.36 430.45,407.84 430.7,404.21 430.95,400.85 431.2,398.2 431.45,395.47 431.7,392.38 431.95,390.36 432.2,388.42 432.45,385.84 432.7,382.36 432.95,380.47 433.2,378.93 433.45,377.35 433.7,375.27 433.95,374.52 434.2,373.1 434.45,371.35 434.7,370.46 434.95,368.42 435.2,366.43 435.45,365.79 435.7,365.36 435.95,363.38 436.2,363.66 436.45,362.21 436.7,361.26 436.95,359.31 437.2,358.02 437.45,358.27 437.72,357.36 437.94,358.99 438.16,361.9 438.38,359.82 438.6,362.57 438.82,364.47 439.04,365.58 439.26,362.94 439.48,366.77 439.7,366.83 439.92,368.9 440.14,366.08 440.36,368.89 440.58,370.15 440.8,373.14 441.02,372.35 441.24,371.32 441.46,373.29 441.68,376.96 441.9,377.52 442.12,376.21 442.34,373.93 442.56,377.83 442.78,378.61 443,375.89 443.22,377.57 443.44,377.23 443.66,376.66 443.88,380.86 444.1,378.38 444.32,378.33 444.54,382.94 444.76,379.04 444.98,382.82 445.2,383.44 445.42,380.83 445.64,381.8 445.86,381.35 446.08,384.2 446.3,385.91 446.52,385.05 446.74,384.07 446.96,384.63 447.18,384.29 447.4,386.21 447.62,384.23 447.84,384.44 448.06,387.08 448.28,385.01 448.5,389.04 448.72,387.9 448.94,385.3 449.16,384.67 449.38,387.89 449.6,385.7 449.82,387.82 450.04,388.56 450.26,389.86 450.48,387.9 450.7,388.94 450.92,390.56 451.14,387.24 451.36,388.51 451.58,391.19 451.8,389.06 452.02,392.26 452.24,388.08 452.46,388.3 452.68,389.97 452.9,390.71 453.12,390.43 453.34,389.89 453.56,391.29 453.78,393.83" fill="none" stroke="#ee2b2b" stroke-width="1.35" stroke-linejoin="round" />
<line x1="454.4" y1="393.83" x2="454.4" y2="457.6" stroke="#f37c7c" stroke-width="1.6"/>
<polygon points="454.8,457.6 454.8,451.77 455.25,453.61 455.7,452.6 456.15,452.27 456.6,453.97 457.05,453.89 457.5,452.34 457.95,450.71 458.4,452.44 458.85,453.01 459.3,453.54 459.75,453.89 460.2,453.6 460.65,451.89 461.1,452.56 461.55,454.3 462,451.94 462.45,452.89 462.9,451.75 463.35,453.86 463.8,454.25 464.25,453.44 464.4,457.6" fill="#ee2b2b" stroke="#ee2b2b" stroke-width="0.6" stroke-linejoin="round"/>
<polyline points="455,456.5 464.4,452.22 464.65,448.57 464.9,444.9 465.15,442.22 465.4,437.56 465.65,434.92 465.9,429.48 466.15,424.91 466.4,420.69 466.65,415.93 466.9,412.26 467.15,406.43 467.4,402.15 467.65,396.84 467.9,392.09 468.15,387.85 468.4,382.62 468.65,377.91 468.9,374.73 469.15,369.93 469.4,365.87 469.65,364.52 469.9,363.48 470.15,362.07 470.4,360.69 470.65,359.76 470.9,358.47 471.15,356.66 471.4,354.42 471.65,353.27 471.9,351.29 472.15,349.96 472.4,347.67 472.65,345.51 472.9,343.94 473.15,342.21 473.4,341.83 473.65,340.5 473.9,339.01 474.15,337.42 474.4,336.77 474.65,335.09 474.9,333.9 475.15,332.42 475.4,332.73 475.65,331.02 475.9,330.18 476.15,328.91 476.4,328.39 476.65,327.54 476.9,326.59 477.15,326.57 477.4,325.45 477.65,325.38 477.9,324.96 478.15,323.65 478.4,324.18 478.65,322.56 478.9,322.38 479.15,322.86 479.4,321.42 479.65,321.27 479.9,321.1 480.15,321.52 480.4,321.17 480.65,319.66 480.9,319.92 481.15,319.82 481.52,321.24 481.74,322.17 481.96,321.16 482.18,321.77 482.4,324.15 482.62,324.27 482.84,325.3 483.06,324.32 483.28,326.84 483.5,326.86 483.72,326.56 483.94,327.45 484.16,329.03 484.38,329.85 484.6,330.86 484.82,333.78 485.04,333.08 485.26,333.4 485.48,333.98 485.7,334.92 485.92,337.13 486.14,338.29 486.36,338.33 486.58,340.81 486.8,341.38 487.02,341.48 487.24,344.01 487.46,344.1 487.68,345.16 487.9,347.92 488.12,347.9 488.34,348.66 488.56,350.26 488.78,351.8 489,352.45 489.22,354.44 489.44,354.35 489.66,353.62 489.88,355.97 490.1,353.49 490.32,354.47 490.54,354.7 490.76,355.95 490.98,356.3 491.2,356.85 491.42,358.05 491.64,357.61 491.86,358.47 492.08,359.51 492.3,360.69 492.52,361.15 492.74,359.66 492.96,360.07 493.18,362.32 493.4,362.2 493.62,362.68 493.84,360.66 494.06,361.56 494.28,362.34 494.5,362.33 494.72,363.17 494.94,365.03 495.16,363.67 495.38,364.5 495.6,364.39 495.82,365.67 496.04,365.99 496.26,365.31 496.48,365.38 496.7,368 496.92,368.7 497.14,367.62 497.36,367.64 497.58,367.79 497.8,369.88 498.02,370.33 498.24,372.14 498.46,372.03 498.68,372.4 498.9,373.16" fill="none" stroke="#ee2b2b" stroke-width="1.35" stroke-linejoin="round" />
<line x1="499.3" y1="373.16" x2="499.3" y2="457.6" stroke="#f37c7c" stroke-width="1.6"/>
<polygon points="499.7,457.6 499.7,451.85 500.15,453.64 500.6,454.27 501.05,451.7 501.5,452.25 501.95,452.53 502.4,451.72 502.85,452.77 503.3,452.19 503.75,452.14 504.2,453.32 504.65,451.48 505.1,452.54 505.55,454.02 506,453.71 506.45,454.22 506.9,453.04 507.35,453.32 507.8,454.02 508.25,453.63 508.4,457.6" fill="#ee2b2b" stroke="#ee2b2b" stroke-width="0.6" stroke-linejoin="round"/>
<polyline points="499.9,456.5 508.4,452.11 508.65,448.58 508.9,443.21 509.15,438.72 509.4,434.3 509.65,429.7 509.9,421.45 510.15,415.2 510.4,407.23 510.65,402.21 510.9,395.78 511.15,390.5 511.4,384.86 511.65,379.89 511.9,374.81 512.15,370.2 512.4,364.25 512.65,361.61 512.9,359.17 513.15,356.77 513.4,353.88 513.65,349.27 513.9,346.02 514.15,342.99 514.4,339.17 514.65,335.3 514.9,332.09 515.15,328.49 515.4,326.46 515.65,325.68 515.9,322.88 516.15,321.47 516.4,318.75 516.65,317.48 516.9,315.68 517.15,312.99 517.4,312.88 517.65,312.36 517.9,311.17 518.15,309.21 518.4,309.14 518.65,308.2 518.9,306.32 519.15,306.09 519.4,305.05 519.65,303.43 519.9,303.38 520.15,302.76 520.4,300.9 520.65,300.82 520.9,300.32 521.15,298.77 521.4,298.85 521.65,298.81 521.9,297.22 522.15,296.79 522.4,296.77 522.65,296 522.9,295.58 523.15,293.79 523.4,294.65 523.65,293.15 523.9,292.69 524.15,291.93 524.4,292.36 524.65,291.53 524.9,290.84 525.15,290.39 525.4,289.92 525.82,290.65 526.04,290.68 526.26,291.51 526.48,293.96 526.7,294.54 526.92,295.48 527.14,295.64 527.36,295.54 527.58,298.24 527.8,299.77 528.02,299.37 528.24,301.19 528.46,301.18 528.68,304.18 528.9,304.69 529.12,304.28 529.34,306.87 529.56,307.91 529.78,308.45 530,309.9 530.22,311.81 530.44,312.33 530.66,312.94 530.88,315.2 531.1,315.52 531.32,316.94 531.54,317.42 531.76,318.88 531.98,319.92 532.2,320.27 532.42,321.19 532.64,321.56 532.86,323.62 533.08,324.79 533.3,324.89 533.52,324.73 533.74,326.88 533.96,327.4 534.18,328.05 534.4,327.55 534.62,329.91 534.84,330.2 535.06,331.02 535.28,330.14 535.5,331.09 535.72,332.35 535.94,331.77 536.16,334.67 536.38,333.4 536.6,333.94 536.82,336.04 537.04,335.33 537.26,336.72 537.48,337.5 537.7,337.05 537.92,337.29 538.14,339.41 538.36,340.41 538.58,340.85 538.8,339.8 539.02,340.93 539.24,341.79 539.46,341.39 539.68,343.97 539.9,344.42 540.12,345.34 540.34,345.79 540.56,346.2 540.78,345.52 541,346.93 541.22,348.03 541.44,346.59 541.66,347.33 541.88,350.04 542.1,348.49 542.32,350.94 542.54,350.25 542.76,350.48 542.98,351.33 543.2,353.06 543.42,353.05 543.64,352.37" fill="none" stroke="#ee2b2b" stroke-width="1.35" stroke-linejoin="round" />
<line x1="544" y1="352.37" x2="544" y2="457.6" stroke="#f37c7c" stroke-width="1.6"/>
<rect x="323" y="277.2" width="224" height="180.9" fill="none" stroke="#222" stroke-width="1.6"/>
<line x1="319.4" y1="457.4" x2="323" y2="457.4" stroke="#222" stroke-width="1.4"/>
<text x="317.3" y="460.6" font-size="9.3" text-anchor="end" >0</text>
<line x1="320.8" y1="436.14" x2="323" y2="436.14" stroke="#222" stroke-width="1.4"/>
<line x1="319.4" y1="414.87" x2="323" y2="414.87" stroke="#222" stroke-width="1.4"/>
<text x="317.3" y="418.07" font-size="9.3" text-anchor="end" >20</text>
<line x1="320.8" y1="393.61" x2="323" y2="393.61" stroke="#222" stroke-width="1.4"/>
<line x1="319.4" y1="372.35" x2="323" y2="372.35" stroke="#222" stroke-width="1.4"/>
<text x="317.3" y="375.55" font-size="9.3" text-anchor="end" >40</text>
<line x1="320.8" y1="351.08" x2="323" y2="351.08" stroke="#222" stroke-width="1.4"/>
<line x1="319.4" y1="329.82" x2="323" y2="329.82" stroke="#222" stroke-width="1.4"/>
<text x="317.3" y="333.02" font-size="9.3" text-anchor="end" >60</text>
<line x1="320.8" y1="308.56" x2="323" y2="308.56" stroke="#222" stroke-width="1.4"/>
<line x1="319.4" y1="287.3" x2="323" y2="287.3" stroke="#222" stroke-width="1.4"/>
<text x="317.3" y="290.5" font-size="9.3" text-anchor="end" >80</text>
<line x1="323" y1="458.1" x2="323" y2="461.7" stroke="#222" stroke-width="1.4"/>
<text x="323" y="471.5" font-size="9.3" text-anchor="middle" >0</text>
<line x1="337.93" y1="458.1" x2="337.93" y2="460.3" stroke="#222" stroke-width="1.4"/>
<line x1="352.85" y1="458.1" x2="352.85" y2="461.7" stroke="#222" stroke-width="1.4"/>
<text x="352.85" y="471.5" font-size="9.3" text-anchor="middle" >500</text>
<line x1="367.77" y1="458.1" x2="367.77" y2="460.3" stroke="#222" stroke-width="1.4"/>
<line x1="382.7" y1="458.1" x2="382.7" y2="461.7" stroke="#222" stroke-width="1.4"/>
<text x="382.7" y="471.5" font-size="9.3" text-anchor="middle" >1000</text>
<line x1="397.62" y1="458.1" x2="397.62" y2="460.3" stroke="#222" stroke-width="1.4"/>
<line x1="412.55" y1="458.1" x2="412.55" y2="461.7" stroke="#222" stroke-width="1.4"/>
<text x="412.55" y="471.5" font-size="9.3" text-anchor="middle" >1500</text>
<line x1="427.48" y1="458.1" x2="427.48" y2="460.3" stroke="#222" stroke-width="1.4"/>
<line x1="442.4" y1="458.1" x2="442.4" y2="461.7" stroke="#222" stroke-width="1.4"/>
<text x="442.4" y="471.5" font-size="9.3" text-anchor="middle" >2000</text>
<line x1="457.33" y1="458.1" x2="457.33" y2="460.3" stroke="#222" stroke-width="1.4"/>
<line x1="472.25" y1="458.1" x2="472.25" y2="461.7" stroke="#222" stroke-width="1.4"/>
<text x="472.25" y="471.5" font-size="9.3" text-anchor="middle" >2500</text>
<line x1="487.18" y1="458.1" x2="487.18" y2="460.3" stroke="#222" stroke-width="1.4"/>
<line x1="502.1" y1="458.1" x2="502.1" y2="461.7" stroke="#222" stroke-width="1.4"/>
<text x="502.1" y="471.5" font-size="9.3" text-anchor="middle" >3000</text>
<line x1="517.02" y1="458.1" x2="517.02" y2="460.3" stroke="#222" stroke-width="1.4"/>
<line x1="531.95" y1="458.1" x2="531.95" y2="461.7" stroke="#222" stroke-width="1.4"/>
<text x="531.95" y="471.5" font-size="9.3" text-anchor="middle" >3500</text>
<line x1="546.88" y1="458.1" x2="546.88" y2="460.3" stroke="#222" stroke-width="1.4"/>
<line x1="331.1" y1="293.9" x2="350.2" y2="293.9" stroke="#8a8a8a" stroke-width="1.8"/>
<line x1="331.1" y1="304.8" x2="350.2" y2="304.8" stroke="#ee2b2b" stroke-width="1.0"/>
<text x="352.3" y="296.6" font-size="8.5" text-anchor="start"  style="stroke-width:0.12px">CNCs</text>
<text x="352.3" y="307.5" font-size="8.5" text-anchor="start"  style="stroke-width:0.12px">CeO<tspan font-size="6" dy="2.1">2</tspan><tspan dy="-2.1">/CNCs</tspan></text>
<text x="336.7" y="409.1" font-size="7.4" text-anchor="start"  style="stroke-width:0.12px">10 ppm</text>
<text x="383.9" y="374" font-size="7.4" text-anchor="start"  style="stroke-width:0.12px">20 ppm</text>
<text x="426.9" y="353.7" font-size="7.4" text-anchor="start"  style="stroke-width:0.12px">30 ppm</text>
<text x="470" y="314.7" font-size="7.4" text-anchor="start"  style="stroke-width:0.12px">50 ppm</text>
<text x="513.1" y="284.6" font-size="7.4" text-anchor="start"  style="stroke-width:0.12px">80 ppm</text>
<text x="434.9" y="492.3" font-size="15.3" text-anchor="middle" font-weight="bold" >Time (s)</text>
<text transform="translate(303.5,367.9) rotate(-90)" x="0" y="0" font-size="15.2" font-weight="bold" text-anchor="middle">Response (%)</text>
<text x="303.4" y="270.6" font-size="12.2" text-anchor="start" >(d)</text>
</svg></body></html>
